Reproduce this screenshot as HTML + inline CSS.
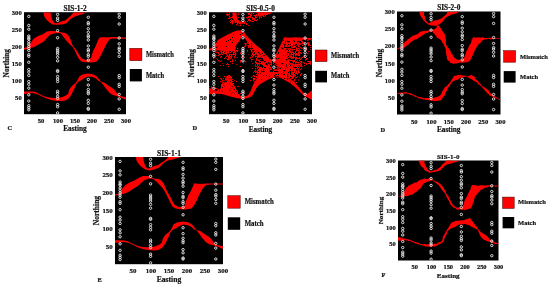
<!DOCTYPE html>
<html lang="en"><head><meta charset="utf-8"><title>Mismatch maps</title>
<style>html,body{margin:0;padding:0;background:#fff;}body{width:550px;height:289px;overflow:hidden;font-family:"Liberation Serif",serif;}svg text{stroke:#1a1a1a;stroke-width:.22px;}</style></head>
<body>
<svg width="550" height="289" viewBox="0 0 550 289" font-family="'Liberation Serif', serif" font-weight="bold" fill="#111" style="display:block">
<defs><clipPath id="c0"><rect x="24.00" y="12.20" width="102.00" height="102.00"/></clipPath><clipPath id="c1"><rect x="209.00" y="12.20" width="103.00" height="102.00"/></clipPath><clipPath id="c2"><rect x="397.00" y="11.50" width="103.50" height="103.00"/></clipPath><clipPath id="c3"><rect x="115.00" y="157.00" width="108.00" height="107.20"/></clipPath><clipPath id="c4"><rect x="398.00" y="160.50" width="100.50" height="100.00"/></clipPath></defs>
<g><rect x="24.00" y="12.20" width="102.00" height="102.00" fill="#000"/>
<g clip-path="url(#c0)">
<path d="M43.20 12.20 L44.20 16.30 L46.30 19.40 L49.40 22.50 L52.50 24.40 L56.70 24.80 L61.90 24.60 L66.10 23.60 L68.10 21.50 L71.20 18.40 L75.40 16.30 L79.60 15.10 L83.70 13.70 L86.30 12.20 L73.80 12.20 L71.20 15.30 L68.10 17.90 L65.00 20.50 L61.90 21.30 L58.80 22.50 L55.70 23.60 L54.10 22.50 L52.00 19.40 L51.00 15.30 L50.50 12.20Z" fill="#fe0000"/>
<path d="M24.00 48.00 L28.60 46.80 L30.30 43.50 L33.40 39.00 L37.60 36.30 L42.80 34.20 L46.90 31.60 L50.10 30.90 L57.30 31.20 L61.50 32.60 L65.30 32.90 L67.50 34.40 L69.60 37.30 L71.10 40.90 L72.20 44.50 L73.60 46.70 L76.90 50.80 L79.00 54.50 L81.40 58.20 L85.50 60.00 L89.10 59.50 L91.20 57.40 L92.80 51.70 L95.90 45.40 L98.00 40.20 L99.50 37.60 L103.20 37.30 L108.40 37.30 L113.60 37.10 L117.70 37.30 L126.00 37.60 L126.00 38.70 L117.70 38.70 L113.60 38.40 L109.40 39.20 L106.80 43.40 L104.20 48.50 L101.60 53.70 L99.00 58.90 L95.90 62.10 L90.70 62.60 L85.50 62.30 L81.40 61.50 L78.80 58.80 L77.00 55.50 L75.20 51.20 L72.50 46.80 L69.60 44.20 L66.70 40.90 L63.80 37.30 L60.90 33.60 L57.30 32.80 L53.20 33.80 L50.10 34.80 L46.90 38.10 L43.80 41.50 L39.70 43.70 L34.50 46.70 L29.30 48.50 L24.00 49.70Z" fill="#fe0000"/>
<path d="M24.00 91.40 L28.20 91.40 L32.40 91.60 L35.50 92.10 L39.70 94.20 L44.90 96.60 L50.10 97.80 L56.30 98.00 L61.50 97.30 L65.60 95.70 L68.20 93.70 L69.30 89.50 L71.90 85.90 L75.00 83.60 L77.20 80.70 L79.30 76.50 L82.40 74.50 L87.60 73.60 L92.80 74.30 L96.90 76.50 L99.50 79.70 L100.90 81.60 L104.50 82.70 L108.70 85.80 L112.90 88.40 L115.50 91.00 L117.50 94.10 L121.20 96.20 L126.00 97.20 L126.00 99.80 L121.20 97.70 L117.00 96.20 L112.90 95.10 L109.70 93.10 L106.60 89.40 L103.50 85.30 L100.90 81.90 L99.00 81.20 L95.90 78.60 L92.80 77.10 L88.60 76.50 L84.50 78.10 L81.40 80.20 L78.20 81.70 L76.20 84.00 L75.00 87.40 L72.90 91.60 L71.40 94.70 L68.80 98.30 L65.60 100.40 L61.50 101.10 L56.30 100.90 L50.10 99.70 L44.90 97.80 L40.70 95.70 L36.50 93.90 L32.40 93.10 L28.20 93.50 L24.00 93.90Z" fill="#fe0000"/>
<g fill="none" stroke="#efefef" stroke-width="0.9"><circle cx="28.80" cy="16.40" r="1.2"/><circle cx="28.80" cy="25.40" r="1.2"/><circle cx="28.80" cy="29.20" r="1.2"/><circle cx="28.80" cy="36.00" r="1.2"/><circle cx="28.80" cy="38.00" r="1.2"/><circle cx="28.80" cy="39.10" r="1.2"/><circle cx="28.80" cy="41.70" r="1.2"/><circle cx="28.80" cy="44.10" r="1.2"/><circle cx="28.80" cy="46.40" r="1.2"/><circle cx="28.80" cy="48.50" r="1.2"/><circle cx="28.80" cy="50.50" r="1.2"/><circle cx="28.80" cy="54.70" r="1.2"/><circle cx="28.80" cy="56.30" r="1.2"/><circle cx="28.80" cy="62.30" r="1.2"/><circle cx="28.80" cy="69.50" r="1.2"/><circle cx="28.80" cy="72.20" r="1.2"/><circle cx="28.80" cy="75.50" r="1.2"/><circle cx="28.80" cy="81.50" r="1.2"/><circle cx="28.80" cy="84.30" r="1.2"/><circle cx="28.80" cy="88.20" r="1.2"/><circle cx="28.80" cy="94.80" r="1.2"/><circle cx="28.80" cy="101.00" r="1.2"/><circle cx="28.80" cy="105.70" r="1.2"/><circle cx="28.80" cy="107.70" r="1.2"/><circle cx="28.80" cy="109.80" r="1.2"/><circle cx="57.60" cy="14.40" r="1.2"/><circle cx="57.60" cy="18.10" r="1.2"/><circle cx="57.60" cy="20.40" r="1.2"/><circle cx="57.60" cy="30.60" r="1.2"/><circle cx="57.60" cy="37.70" r="1.2"/><circle cx="57.60" cy="48.50" r="1.2"/><circle cx="57.60" cy="50.30" r="1.2"/><circle cx="57.60" cy="52.10" r="1.2"/><circle cx="57.60" cy="54.20" r="1.2"/><circle cx="57.60" cy="57.30" r="1.2"/><circle cx="57.60" cy="60.90" r="1.2"/><circle cx="57.60" cy="70.60" r="1.2"/><circle cx="57.60" cy="71.50" r="1.2"/><circle cx="57.60" cy="76.50" r="1.2"/><circle cx="57.60" cy="79.10" r="1.2"/><circle cx="57.60" cy="81.50" r="1.2"/><circle cx="57.60" cy="91.30" r="1.2"/><circle cx="57.60" cy="93.20" r="1.2"/><circle cx="57.60" cy="96.30" r="1.2"/><circle cx="57.60" cy="98.40" r="1.2"/><circle cx="57.60" cy="104.60" r="1.2"/><circle cx="57.60" cy="106.70" r="1.2"/><circle cx="57.60" cy="112.90" r="1.2"/><circle cx="88.30" cy="17.30" r="1.2"/><circle cx="88.30" cy="22.50" r="1.2"/><circle cx="88.30" cy="24.00" r="1.2"/><circle cx="88.30" cy="28.70" r="1.2"/><circle cx="88.30" cy="32.30" r="1.2"/><circle cx="88.30" cy="35.50" r="1.2"/><circle cx="88.30" cy="37.00" r="1.2"/><circle cx="88.30" cy="40.00" r="1.2"/><circle cx="88.30" cy="45.90" r="1.2"/><circle cx="88.30" cy="49.50" r="1.2"/><circle cx="88.30" cy="51.00" r="1.2"/><circle cx="88.30" cy="54.70" r="1.2"/><circle cx="88.30" cy="56.30" r="1.2"/><circle cx="88.30" cy="60.10" r="1.2"/><circle cx="88.30" cy="67.20" r="1.2"/><circle cx="88.30" cy="79.50" r="1.2"/><circle cx="88.30" cy="85.10" r="1.2"/><circle cx="88.30" cy="89.50" r="1.2"/><circle cx="88.30" cy="92.00" r="1.2"/><circle cx="88.30" cy="93.70" r="1.2"/><circle cx="88.30" cy="100.30" r="1.2"/><circle cx="88.30" cy="103.40" r="1.2"/><circle cx="88.30" cy="108.30" r="1.2"/><circle cx="88.30" cy="109.30" r="1.2"/><circle cx="119.20" cy="14.20" r="1.2"/><circle cx="119.20" cy="17.30" r="1.2"/><circle cx="119.20" cy="24.00" r="1.2"/><circle cx="119.20" cy="38.00" r="1.2"/><circle cx="119.20" cy="43.80" r="1.2"/><circle cx="119.20" cy="48.00" r="1.2"/><circle cx="119.20" cy="49.50" r="1.2"/><circle cx="119.20" cy="52.60" r="1.2"/><circle cx="119.20" cy="56.30" r="1.2"/><circle cx="119.20" cy="75.50" r="1.2"/><circle cx="119.20" cy="77.60" r="1.2"/><circle cx="119.20" cy="84.30" r="1.2"/><circle cx="119.20" cy="86.40" r="1.2"/><circle cx="119.20" cy="94.40" r="1.2"/><circle cx="119.20" cy="98.90" r="1.2"/><circle cx="119.20" cy="109.30" r="1.2"/></g>
</g>
<text x="75.00" y="10.90" text-anchor="middle" font-size="7.30">SIS-1-2</text>
<text x="41.00" y="123.20" text-anchor="middle" font-size="6.60">50</text>
<text x="58.00" y="123.20" text-anchor="middle" font-size="6.60">100</text>
<text x="75.00" y="123.20" text-anchor="middle" font-size="6.60">150</text>
<text x="92.00" y="123.20" text-anchor="middle" font-size="6.60">200</text>
<text x="109.00" y="123.20" text-anchor="middle" font-size="6.60">250</text>
<text x="126.00" y="123.20" text-anchor="middle" font-size="6.60">300</text>
<text x="21.70" y="99.80" text-anchor="end" font-size="6.60">50</text>
<text x="21.70" y="82.80" text-anchor="end" font-size="6.60">100</text>
<text x="21.70" y="65.80" text-anchor="end" font-size="6.60">150</text>
<text x="21.70" y="48.80" text-anchor="end" font-size="6.60">200</text>
<text x="21.70" y="31.80" text-anchor="end" font-size="6.60">250</text>
<text x="21.70" y="14.80" text-anchor="end" font-size="6.60">300</text>
<text x="75.00" y="131.20" text-anchor="middle" font-size="7.30">Easting</text>
<text transform="translate(8.80 63.20) rotate(-90)" text-anchor="middle" font-size="7.30">Northing</text>
<text x="7.40" y="130.00" font-size="6.4">C</text>
<rect x="129.80" y="48.30" width="12.10" height="12.40" fill="#fe0000" stroke="#500" stroke-width="0.55"/>
<rect x="129.80" y="69.00" width="12.10" height="12.40" fill="#000"/>
<text transform="translate(145.90 56.80) scale(0.91 1)" font-size="7.20">Mismatch</text>
<text transform="translate(145.90 77.50) scale(0.91 1)" font-size="7.20">Match</text></g>
<g><rect x="209.00" y="12.20" width="103.00" height="102.00" fill="#000"/>
<g clip-path="url(#c1)">
<path d="M232.40 12.20 L232.60 17.00 L233.50 20.00 L236.00 22.50 L239.00 23.80 L243.00 23.80 L246.30 22.30 L246.00 21.00 L243.00 21.80 L240.00 21.30 L237.80 19.50 L236.80 16.00 L236.40 12.20Z" fill="#fe0000"/>
<path d="M257.00 12.20 L273.00 12.20 L268.00 14.20 L262.00 15.80 L259.00 16.80Z" fill="#fe0000"/>
<path d="M209.00 49.00 L214.30 46.50 L217.40 40.30 L222.60 37.20 L227.80 34.60 L233.00 32.00 L237.00 30.60 L241.00 30.40 L243.80 31.50 L246.90 36.00 L251.30 40.40 L255.60 44.70 L260.50 48.40 L265.60 54.50 L270.70 59.20 L272.40 59.80 L273.40 59.00 L275.00 56.50 L276.80 52.50 L279.00 48.00 L281.00 44.00 L283.20 39.50 L284.00 37.20 L290.00 37.70 L295.40 37.20 L303.70 37.70 L312.00 38.00 L312.00 39.30 L303.00 39.50 L298.00 40.50 L293.30 44.50 L290.20 50.70 L289.00 56.00 L290.00 62.00 L292.00 68.00 L292.50 74.00 L291.00 80.00 L290.20 83.30 L285.00 80.20 L279.80 77.60 L274.60 77.30 L269.40 79.10 L264.20 81.70 L259.50 84.60 L256.60 87.80 L254.40 91.80 L252.00 95.90 L248.60 97.80 L243.40 98.90 L238.20 98.30 L233.00 97.30 L227.80 95.80 L222.60 94.20 L217.40 93.70 L209.00 94.20 L209.00 87.40 L212.20 89.50 L217.40 91.00 L224.00 92.00 L230.00 93.00 L236.00 94.50 L242.30 97.00 L247.80 95.60 L250.60 91.20 L252.60 86.00 L254.80 81.80 L257.00 78.00 L258.60 73.00 L259.30 67.00 L259.00 62.00 L258.20 57.00 L256.60 54.20 L253.80 49.80 L249.60 44.20 L245.50 39.60 L243.50 36.00 L241.50 36.50 L239.50 40.90 L236.50 44.50 L235.80 48.20 L235.10 51.00 L228.00 51.20 L222.00 50.80 L214.30 50.00 L209.00 50.50Z" fill="#fe0000"/>
<path d="M290.20 83.30 L295.40 87.40 L300.60 92.60 L304.70 96.30 L309.00 98.30 L312.00 100.00 L312.00 90.00 L310.00 92.00 L307.00 94.00 L303.50 93.00 L299.50 88.00 L296.00 84.00 L293.00 80.50 L291.00 80.00Z" fill="#fe0000"/>
<path d="M226 12h1.0v1.0h-1.0zM227 12h0.8v0.8h-0.8zM228 12h0.8v0.8h-0.8zM229 12h0.8v0.8h-0.8zM231 12h0.8v0.8h-0.8zM227 13h0.8v0.8h-0.8zM229 13h0.8v0.8h-0.8zM226 14h1.3v1.3h-1.3zM227 14h1.0v1.0h-1.0zM228 14h1.0v1.0h-1.0zM229 14h1.0v1.0h-1.0zM227 15h1.0v1.0h-1.0zM228 15h0.8v0.8h-0.8zM229 16h1.0v1.0h-1.0zM232 16h1.0v1.0h-1.0zM229 17h0.8v0.8h-0.8zM230 17h1.3v1.3h-1.3zM231 17h1.0v1.0h-1.0zM232 17h1.3v1.3h-1.3zM228 18h1.0v1.0h-1.0zM229 18h1.0v1.0h-1.0zM231 19h1.0v1.0h-1.0zM230 20h1.3v1.3h-1.3zM232 20h1.3v1.3h-1.3zM229 21h0.8v0.8h-0.8zM231 21h1.0v1.0h-1.0zM232 21h1.0v1.0h-1.0zM233 21h1.3v1.3h-1.3zM230 22h1.3v1.3h-1.3zM232 22h1.0v1.0h-1.0zM232 23h1.3v1.3h-1.3zM234 22h0.8v0.8h-0.8zM235 22h1.0v1.0h-1.0zM237 22h1.0v1.0h-1.0zM238 22h0.8v0.8h-0.8zM239 22h1.0v1.0h-1.0zM242 22h0.8v0.8h-0.8zM237 23h1.0v1.0h-1.0zM239 23h0.8v0.8h-0.8zM240 23h1.0v1.0h-1.0zM244 23h1.0v1.0h-1.0zM246 23h1.0v1.0h-1.0zM236 24h1.3v1.3h-1.3zM240 24h0.8v0.8h-0.8zM246 24h1.0v1.0h-1.0zM247 24h0.8v0.8h-0.8zM238 25h0.8v0.8h-0.8zM240 25h1.0v1.0h-1.0zM243 25h1.0v1.0h-1.0zM248 25h1.0v1.0h-1.0zM239 12h1.3v1.3h-1.3zM238 13h0.8v0.8h-0.8zM238 14h1.0v1.0h-1.0zM238 17h1.0v1.0h-1.0zM250 12h1.0v1.0h-1.0zM252 12h0.8v0.8h-0.8zM256 12h1.0v1.0h-1.0zM257 12h1.0v1.0h-1.0zM258 12h1.3v1.3h-1.3zM259 12h0.8v0.8h-0.8zM261 12h1.0v1.0h-1.0zM262 12h1.3v1.3h-1.3zM264 12h1.3v1.3h-1.3zM266 12h1.0v1.0h-1.0zM267 12h0.8v0.8h-0.8zM270 12h1.0v1.0h-1.0zM248 13h1.0v1.0h-1.0zM249 13h1.0v1.0h-1.0zM251 13h1.3v1.3h-1.3zM253 13h1.0v1.0h-1.0zM260 13h1.0v1.0h-1.0zM262 13h1.3v1.3h-1.3zM266 13h1.0v1.0h-1.0zM267 13h0.8v0.8h-0.8zM269 13h1.3v1.3h-1.3zM249 14h0.8v0.8h-0.8zM250 14h1.0v1.0h-1.0zM251 14h0.8v0.8h-0.8zM256 14h1.0v1.0h-1.0zM258 14h1.3v1.3h-1.3zM260 14h1.0v1.0h-1.0zM263 14h1.3v1.3h-1.3zM264 14h0.8v0.8h-0.8zM265 14h1.0v1.0h-1.0zM266 14h1.0v1.0h-1.0zM267 14h1.0v1.0h-1.0zM250 15h1.0v1.0h-1.0zM251 15h1.0v1.0h-1.0zM253 15h0.8v0.8h-0.8zM254 15h1.3v1.3h-1.3zM255 15h1.0v1.0h-1.0zM256 15h1.3v1.3h-1.3zM258 15h1.3v1.3h-1.3zM259 15h1.0v1.0h-1.0zM260 15h1.0v1.0h-1.0zM261 15h1.3v1.3h-1.3zM262 15h0.8v0.8h-0.8zM263 15h1.0v1.0h-1.0zM265 15h1.0v1.0h-1.0zM248 16h1.0v1.0h-1.0zM249 16h1.0v1.0h-1.0zM250 16h1.0v1.0h-1.0zM255 16h1.3v1.3h-1.3zM257 16h0.8v0.8h-0.8zM259 16h0.8v0.8h-0.8zM260 16h0.8v0.8h-0.8zM263 16h1.0v1.0h-1.0zM264 16h0.8v0.8h-0.8zM248 17h1.0v1.0h-1.0zM250 17h1.0v1.0h-1.0zM252 17h1.0v1.0h-1.0zM255 17h1.0v1.0h-1.0zM256 17h1.0v1.0h-1.0zM259 17h1.3v1.3h-1.3zM261 17h1.0v1.0h-1.0zM249 18h0.8v0.8h-0.8zM252 18h1.3v1.3h-1.3zM253 18h1.3v1.3h-1.3zM254 18h1.3v1.3h-1.3zM259 18h1.0v1.0h-1.0zM248 19h1.0v1.0h-1.0zM249 19h1.0v1.0h-1.0zM252 19h1.0v1.0h-1.0zM253 19h0.8v0.8h-0.8zM254 19h1.3v1.3h-1.3zM257 19h1.0v1.0h-1.0zM248 20h1.0v1.0h-1.0zM249 20h1.3v1.3h-1.3zM250 20h1.0v1.0h-1.0zM254 20h1.0v1.0h-1.0zM255 20h1.0v1.0h-1.0zM256 20h1.3v1.3h-1.3zM247 21h1.0v1.0h-1.0zM249 21h0.8v0.8h-0.8zM250 21h0.8v0.8h-0.8zM251 21h0.8v0.8h-0.8zM252 21h1.0v1.0h-1.0zM253 21h1.0v1.0h-1.0zM248 14h1.0v1.0h-1.0zM246 17h1.0v1.0h-1.0zM247 17h1.3v1.3h-1.3zM247 18h0.8v0.8h-0.8zM248 20h1.0v1.0h-1.0zM237 48h1.3v1.3h-1.3zM216 50h0.8v0.8h-0.8zM221 50h1.3v1.3h-1.3zM222 50h0.8v0.8h-0.8zM236 50h1.0v1.0h-1.0zM237 50h1.3v1.3h-1.3zM215 51h1.3v1.3h-1.3zM217 51h0.8v0.8h-0.8zM220 51h1.0v1.0h-1.0zM221 51h1.0v1.0h-1.0zM223 51h1.3v1.3h-1.3zM224 51h1.0v1.0h-1.0zM226 51h1.0v1.0h-1.0zM228 51h1.0v1.0h-1.0zM231 51h1.0v1.0h-1.0zM232 51h0.8v0.8h-0.8zM234 51h1.3v1.3h-1.3zM235 51h1.3v1.3h-1.3zM237 51h1.0v1.0h-1.0zM215 52h0.8v0.8h-0.8zM216 52h1.0v1.0h-1.0zM218 52h1.0v1.0h-1.0zM221 52h1.3v1.3h-1.3zM222 52h1.0v1.0h-1.0zM223 52h1.3v1.3h-1.3zM225 52h1.0v1.0h-1.0zM226 52h1.3v1.3h-1.3zM227 52h1.0v1.0h-1.0zM228 52h1.0v1.0h-1.0zM230 52h1.0v1.0h-1.0zM233 52h1.0v1.0h-1.0zM234 52h1.3v1.3h-1.3zM218 53h1.3v1.3h-1.3zM221 53h0.8v0.8h-0.8zM223 53h1.0v1.0h-1.0zM224 53h1.0v1.0h-1.0zM225 53h1.0v1.0h-1.0zM226 53h1.0v1.0h-1.0zM228 53h0.8v0.8h-0.8zM235 53h1.3v1.3h-1.3zM226 54h0.8v0.8h-0.8zM229 54h1.3v1.3h-1.3zM230 54h1.0v1.0h-1.0zM231 54h1.0v1.0h-1.0zM232 54h1.0v1.0h-1.0zM233 54h1.3v1.3h-1.3zM234 54h1.0v1.0h-1.0zM235 54h1.3v1.3h-1.3zM221 53h1.0v1.0h-1.0zM223 53h1.0v1.0h-1.0zM226 53h0.8v0.8h-0.8zM233 53h1.0v1.0h-1.0zM219 54h1.0v1.0h-1.0zM226 54h1.3v1.3h-1.3zM231 54h1.3v1.3h-1.3zM218 55h1.0v1.0h-1.0zM227 55h1.0v1.0h-1.0zM228 55h0.8v0.8h-0.8zM231 55h1.0v1.0h-1.0zM235 55h1.0v1.0h-1.0zM220 56h0.8v0.8h-0.8zM221 56h1.0v1.0h-1.0zM226 56h1.0v1.0h-1.0zM228 56h1.3v1.3h-1.3zM231 56h1.3v1.3h-1.3zM234 56h1.0v1.0h-1.0zM220 57h0.8v0.8h-0.8zM225 57h1.0v1.0h-1.0zM228 57h1.0v1.0h-1.0zM231 57h1.0v1.0h-1.0zM234 57h1.3v1.3h-1.3zM224 58h1.0v1.0h-1.0zM226 58h0.8v0.8h-0.8zM228 58h0.8v0.8h-0.8zM230 58h1.3v1.3h-1.3zM227 59h1.3v1.3h-1.3zM228 59h1.3v1.3h-1.3zM232 59h0.8v0.8h-0.8zM223 51h1.3v1.3h-1.3zM237 51h1.0v1.0h-1.0zM217 52h0.8v0.8h-0.8zM218 52h1.0v1.0h-1.0zM228 52h1.0v1.0h-1.0zM240 52h0.8v0.8h-0.8zM240 53h1.0v1.0h-1.0zM220 54h1.0v1.0h-1.0zM222 54h1.0v1.0h-1.0zM241 54h1.0v1.0h-1.0zM214 55h1.3v1.3h-1.3zM216 55h0.8v0.8h-0.8zM227 55h1.0v1.0h-1.0zM229 55h1.0v1.0h-1.0zM242 55h1.0v1.0h-1.0zM230 56h1.3v1.3h-1.3zM242 56h1.0v1.0h-1.0zM215 57h0.8v0.8h-0.8zM229 57h1.3v1.3h-1.3zM237 57h1.0v1.0h-1.0zM242 57h1.0v1.0h-1.0zM213 58h1.3v1.3h-1.3zM216 58h0.8v0.8h-0.8zM228 58h1.0v1.0h-1.0zM217 59h1.0v1.0h-1.0zM218 60h1.3v1.3h-1.3zM221 60h0.8v0.8h-0.8zM232 60h1.0v1.0h-1.0zM235 60h1.0v1.0h-1.0zM240 60h1.0v1.0h-1.0zM215 61h0.8v0.8h-0.8zM219 61h0.8v0.8h-0.8zM220 61h1.0v1.0h-1.0zM230 61h1.3v1.3h-1.3zM232 61h1.3v1.3h-1.3zM240 61h1.0v1.0h-1.0zM245 61h1.3v1.3h-1.3zM240 62h0.8v0.8h-0.8zM222 63h0.8v0.8h-0.8zM227 63h1.0v1.0h-1.0zM232 63h1.0v1.0h-1.0zM243 63h0.8v0.8h-0.8zM226 64h1.0v1.0h-1.0zM228 64h1.0v1.0h-1.0zM236 64h0.8v0.8h-0.8zM220 65h1.0v1.0h-1.0zM223 65h1.0v1.0h-1.0zM228 66h1.0v1.0h-1.0zM240 66h1.0v1.0h-1.0zM247 42h1.0v1.0h-1.0zM245 43h1.0v1.0h-1.0zM246 43h0.8v0.8h-0.8zM247 43h0.8v0.8h-0.8zM248 43h1.0v1.0h-1.0zM249 44h1.0v1.0h-1.0zM247 45h0.8v0.8h-0.8zM248 45h1.3v1.3h-1.3zM249 45h0.8v0.8h-0.8zM250 45h1.3v1.3h-1.3zM248 46h1.0v1.0h-1.0zM249 46h1.0v1.0h-1.0zM250 46h1.3v1.3h-1.3zM248 47h1.0v1.0h-1.0zM250 47h1.3v1.3h-1.3zM250 49h1.0v1.0h-1.0zM252 49h1.0v1.0h-1.0zM253 49h0.8v0.8h-0.8zM251 50h1.3v1.3h-1.3zM251 51h1.3v1.3h-1.3zM252 51h0.8v0.8h-0.8zM254 51h1.0v1.0h-1.0zM252 52h0.8v0.8h-0.8zM253 52h1.3v1.3h-1.3zM255 52h1.0v1.0h-1.0zM252 53h1.0v1.0h-1.0zM255 53h1.0v1.0h-1.0zM252 54h1.3v1.3h-1.3zM253 54h1.3v1.3h-1.3zM254 54h1.0v1.0h-1.0zM255 54h1.3v1.3h-1.3zM253 55h1.0v1.0h-1.0zM254 55h0.8v0.8h-0.8zM255 56h1.3v1.3h-1.3zM256 56h0.8v0.8h-0.8zM257 56h1.3v1.3h-1.3zM257 57h1.0v1.0h-1.0zM256 58h1.0v1.0h-1.0zM256 59h1.0v1.0h-1.0zM257 59h0.8v0.8h-0.8zM256 60h1.0v1.0h-1.0zM258 60h1.3v1.3h-1.3zM255 61h1.0v1.0h-1.0zM255 62h1.0v1.0h-1.0zM256 62h1.3v1.3h-1.3zM256 63h1.0v1.0h-1.0zM257 63h1.0v1.0h-1.0zM258 63h1.3v1.3h-1.3zM255 64h0.8v0.8h-0.8zM257 64h1.0v1.0h-1.0zM255 65h1.0v1.0h-1.0zM257 65h1.0v1.0h-1.0zM255 66h0.8v0.8h-0.8zM256 66h0.8v0.8h-0.8zM258 66h0.8v0.8h-0.8zM257 67h1.3v1.3h-1.3zM258 67h1.0v1.0h-1.0zM255 68h1.3v1.3h-1.3zM257 68h0.8v0.8h-0.8zM258 69h1.0v1.0h-1.0zM255 70h1.3v1.3h-1.3zM257 70h0.8v0.8h-0.8zM258 70h1.0v1.0h-1.0zM256 71h0.8v0.8h-0.8zM257 71h1.0v1.0h-1.0zM255 72h1.0v1.0h-1.0zM256 72h0.8v0.8h-0.8zM257 72h1.0v1.0h-1.0zM258 72h1.3v1.3h-1.3zM257 73h1.3v1.3h-1.3zM256 74h1.0v1.0h-1.0zM254 75h0.8v0.8h-0.8zM257 75h0.8v0.8h-0.8zM254 76h1.3v1.3h-1.3zM256 76h1.0v1.0h-1.0zM256 77h1.0v1.0h-1.0zM253 78h1.0v1.0h-1.0zM254 78h1.0v1.0h-1.0zM255 78h0.8v0.8h-0.8zM253 79h1.3v1.3h-1.3zM254 79h1.0v1.0h-1.0zM253 80h1.0v1.0h-1.0zM254 81h1.0v1.0h-1.0zM244 43h0.8v0.8h-0.8zM245 44h1.3v1.3h-1.3zM245 45h1.0v1.0h-1.0zM246 45h0.8v0.8h-0.8zM244 46h1.3v1.3h-1.3zM247 50h1.0v1.0h-1.0zM247 51h0.8v0.8h-0.8zM248 54h0.8v0.8h-0.8zM251 55h1.3v1.3h-1.3zM252 56h1.3v1.3h-1.3zM250 57h1.3v1.3h-1.3zM252 57h0.8v0.8h-0.8zM250 58h0.8v0.8h-0.8zM251 59h1.3v1.3h-1.3zM252 59h1.0v1.0h-1.0zM251 61h0.8v0.8h-0.8zM252 63h0.8v0.8h-0.8zM253 63h0.8v0.8h-0.8zM252 68h0.8v0.8h-0.8zM254 71h1.0v1.0h-1.0zM253 72h1.0v1.0h-1.0zM253 75h1.0v1.0h-1.0zM252 76h0.8v0.8h-0.8zM251 77h1.0v1.0h-1.0zM250 80h1.3v1.3h-1.3zM228 75h1.3v1.3h-1.3zM229 75h1.0v1.0h-1.0zM226 76h0.8v0.8h-0.8zM227 76h1.3v1.3h-1.3zM228 76h1.0v1.0h-1.0zM229 76h1.0v1.0h-1.0zM230 76h1.0v1.0h-1.0zM226 77h1.3v1.3h-1.3zM227 77h1.0v1.0h-1.0zM228 77h1.0v1.0h-1.0zM229 77h1.0v1.0h-1.0zM230 77h1.0v1.0h-1.0zM231 77h1.0v1.0h-1.0zM225 78h1.3v1.3h-1.3zM226 78h0.8v0.8h-0.8zM227 78h1.3v1.3h-1.3zM228 78h1.0v1.0h-1.0zM229 78h0.8v0.8h-0.8zM230 78h0.8v0.8h-0.8zM231 78h1.0v1.0h-1.0zM225 79h1.0v1.0h-1.0zM226 79h1.0v1.0h-1.0zM227 79h1.3v1.3h-1.3zM228 79h1.0v1.0h-1.0zM229 79h0.8v0.8h-0.8zM230 79h1.0v1.0h-1.0zM231 79h0.8v0.8h-0.8zM232 79h1.0v1.0h-1.0zM224 80h0.8v0.8h-0.8zM226 80h0.8v0.8h-0.8zM227 80h0.8v0.8h-0.8zM228 80h1.0v1.0h-1.0zM229 80h1.3v1.3h-1.3zM230 80h1.0v1.0h-1.0zM231 80h1.0v1.0h-1.0zM222 81h0.8v0.8h-0.8zM225 81h0.8v0.8h-0.8zM227 81h1.3v1.3h-1.3zM228 81h1.0v1.0h-1.0zM229 81h0.8v0.8h-0.8zM231 81h1.0v1.0h-1.0zM232 81h1.3v1.3h-1.3zM222 82h0.8v0.8h-0.8zM223 82h1.0v1.0h-1.0zM224 82h0.8v0.8h-0.8zM225 82h1.3v1.3h-1.3zM226 82h1.0v1.0h-1.0zM230 82h1.0v1.0h-1.0zM231 82h1.0v1.0h-1.0zM222 83h1.0v1.0h-1.0zM224 83h1.3v1.3h-1.3zM227 83h0.8v0.8h-0.8zM228 83h1.3v1.3h-1.3zM230 83h1.0v1.0h-1.0zM231 83h1.0v1.0h-1.0zM232 83h1.0v1.0h-1.0zM233 83h1.0v1.0h-1.0zM221 84h1.0v1.0h-1.0zM222 84h1.0v1.0h-1.0zM223 84h1.3v1.3h-1.3zM224 84h0.8v0.8h-0.8zM225 84h1.0v1.0h-1.0zM226 84h1.0v1.0h-1.0zM227 84h0.8v0.8h-0.8zM228 84h1.3v1.3h-1.3zM229 84h0.8v0.8h-0.8zM230 84h1.0v1.0h-1.0zM231 84h1.0v1.0h-1.0zM232 84h1.0v1.0h-1.0zM221 85h1.0v1.0h-1.0zM224 85h1.0v1.0h-1.0zM225 85h1.0v1.0h-1.0zM226 85h1.0v1.0h-1.0zM227 85h0.8v0.8h-0.8zM228 85h1.0v1.0h-1.0zM229 85h1.3v1.3h-1.3zM230 85h1.0v1.0h-1.0zM231 85h1.3v1.3h-1.3zM232 85h1.3v1.3h-1.3zM233 85h1.0v1.0h-1.0zM221 86h1.0v1.0h-1.0zM222 86h1.0v1.0h-1.0zM223 86h1.0v1.0h-1.0zM224 86h0.8v0.8h-0.8zM226 86h1.0v1.0h-1.0zM227 86h1.0v1.0h-1.0zM228 86h1.0v1.0h-1.0zM229 86h1.0v1.0h-1.0zM230 86h1.3v1.3h-1.3zM233 86h1.0v1.0h-1.0zM234 86h1.3v1.3h-1.3zM221 87h1.3v1.3h-1.3zM223 87h1.0v1.0h-1.0zM224 87h1.0v1.0h-1.0zM225 87h1.0v1.0h-1.0zM226 87h0.8v0.8h-0.8zM227 87h1.3v1.3h-1.3zM229 87h1.0v1.0h-1.0zM230 87h1.0v1.0h-1.0zM231 87h1.3v1.3h-1.3zM232 87h0.8v0.8h-0.8zM233 87h0.8v0.8h-0.8zM220 88h0.8v0.8h-0.8zM221 88h1.0v1.0h-1.0zM222 88h0.8v0.8h-0.8zM223 88h1.0v1.0h-1.0zM224 88h1.0v1.0h-1.0zM225 88h0.8v0.8h-0.8zM226 88h1.0v1.0h-1.0zM227 88h1.3v1.3h-1.3zM228 88h1.3v1.3h-1.3zM229 88h0.8v0.8h-0.8zM230 88h0.8v0.8h-0.8zM231 88h1.3v1.3h-1.3zM232 88h1.0v1.0h-1.0zM233 88h0.8v0.8h-0.8zM234 88h1.0v1.0h-1.0zM235 88h1.0v1.0h-1.0zM221 89h1.3v1.3h-1.3zM222 89h1.0v1.0h-1.0zM224 89h1.3v1.3h-1.3zM225 89h0.8v0.8h-0.8zM226 89h0.8v0.8h-0.8zM227 89h1.0v1.0h-1.0zM228 89h1.0v1.0h-1.0zM229 89h1.0v1.0h-1.0zM232 89h1.0v1.0h-1.0zM235 89h1.3v1.3h-1.3zM220 90h0.8v0.8h-0.8zM221 90h1.0v1.0h-1.0zM222 90h1.3v1.3h-1.3zM223 90h0.8v0.8h-0.8zM224 90h1.3v1.3h-1.3zM226 90h1.3v1.3h-1.3zM227 90h0.8v0.8h-0.8zM228 90h1.0v1.0h-1.0zM230 90h0.8v0.8h-0.8zM231 90h1.0v1.0h-1.0zM232 90h0.8v0.8h-0.8zM233 90h0.8v0.8h-0.8zM234 90h1.0v1.0h-1.0zM235 90h1.0v1.0h-1.0zM236 90h1.0v1.0h-1.0zM220 91h1.0v1.0h-1.0zM221 91h1.0v1.0h-1.0zM224 91h1.0v1.0h-1.0zM225 91h0.8v0.8h-0.8zM226 91h1.0v1.0h-1.0zM228 91h1.0v1.0h-1.0zM229 91h1.0v1.0h-1.0zM230 91h1.0v1.0h-1.0zM231 91h1.0v1.0h-1.0zM232 91h1.3v1.3h-1.3zM234 91h1.0v1.0h-1.0zM235 91h1.3v1.3h-1.3zM237 91h1.0v1.0h-1.0zM225 92h1.0v1.0h-1.0zM226 92h1.0v1.0h-1.0zM227 92h1.0v1.0h-1.0zM229 92h0.8v0.8h-0.8zM230 92h1.0v1.0h-1.0zM231 92h1.0v1.0h-1.0zM232 92h0.8v0.8h-0.8zM233 92h1.3v1.3h-1.3zM234 92h0.8v0.8h-0.8zM235 92h1.0v1.0h-1.0zM236 92h1.0v1.0h-1.0zM237 92h1.0v1.0h-1.0zM230 93h1.0v1.0h-1.0zM232 93h1.3v1.3h-1.3zM233 93h1.0v1.0h-1.0zM234 93h0.8v0.8h-0.8zM235 93h0.8v0.8h-0.8zM236 93h1.0v1.0h-1.0zM237 93h1.0v1.0h-1.0zM234 94h1.3v1.3h-1.3zM236 94h1.0v1.0h-1.0zM237 94h1.0v1.0h-1.0zM238 94h1.3v1.3h-1.3zM239 94h0.8v0.8h-0.8zM237 95h1.3v1.3h-1.3zM238 95h1.0v1.0h-1.0zM239 95h1.0v1.0h-1.0zM240 96h1.3v1.3h-1.3zM241 96h0.8v0.8h-0.8zM228 80h1.0v1.0h-1.0zM227 81h1.0v1.0h-1.0zM229 81h1.3v1.3h-1.3zM226 82h0.8v0.8h-0.8zM227 82h1.0v1.0h-1.0zM228 82h1.3v1.3h-1.3zM229 82h1.0v1.0h-1.0zM225 83h1.3v1.3h-1.3zM226 83h1.3v1.3h-1.3zM227 83h1.0v1.0h-1.0zM228 83h1.0v1.0h-1.0zM229 83h0.8v0.8h-0.8zM230 83h1.0v1.0h-1.0zM224 84h1.0v1.0h-1.0zM225 84h1.0v1.0h-1.0zM226 84h1.3v1.3h-1.3zM227 84h1.3v1.3h-1.3zM228 84h1.0v1.0h-1.0zM229 84h0.8v0.8h-0.8zM230 84h1.0v1.0h-1.0zM224 85h0.8v0.8h-0.8zM225 85h1.0v1.0h-1.0zM226 85h1.0v1.0h-1.0zM227 85h1.3v1.3h-1.3zM228 85h1.0v1.0h-1.0zM229 85h1.0v1.0h-1.0zM230 85h1.0v1.0h-1.0zM231 85h0.8v0.8h-0.8zM224 86h0.8v0.8h-0.8zM225 86h0.8v0.8h-0.8zM226 86h0.8v0.8h-0.8zM227 86h1.0v1.0h-1.0zM228 86h0.8v0.8h-0.8zM230 86h0.8v0.8h-0.8zM231 86h0.8v0.8h-0.8zM224 87h1.3v1.3h-1.3zM225 87h1.0v1.0h-1.0zM226 87h1.0v1.0h-1.0zM227 87h1.3v1.3h-1.3zM228 87h1.0v1.0h-1.0zM229 87h0.8v0.8h-0.8zM230 87h0.8v0.8h-0.8zM231 87h1.3v1.3h-1.3zM232 87h1.3v1.3h-1.3zM223 88h0.8v0.8h-0.8zM224 88h1.0v1.0h-1.0zM225 88h1.0v1.0h-1.0zM226 88h1.0v1.0h-1.0zM227 88h0.8v0.8h-0.8zM228 88h0.8v0.8h-0.8zM229 88h1.3v1.3h-1.3zM230 88h0.8v0.8h-0.8zM231 88h1.3v1.3h-1.3zM232 88h0.8v0.8h-0.8zM223 89h1.0v1.0h-1.0zM224 89h0.8v0.8h-0.8zM225 89h1.0v1.0h-1.0zM226 89h1.3v1.3h-1.3zM227 89h1.0v1.0h-1.0zM229 89h0.8v0.8h-0.8zM230 89h1.3v1.3h-1.3zM231 89h1.0v1.0h-1.0zM232 89h1.3v1.3h-1.3zM233 89h1.3v1.3h-1.3zM223 90h1.0v1.0h-1.0zM224 90h1.0v1.0h-1.0zM225 90h1.0v1.0h-1.0zM226 90h1.0v1.0h-1.0zM227 90h1.0v1.0h-1.0zM228 90h1.3v1.3h-1.3zM229 90h0.8v0.8h-0.8zM231 90h1.0v1.0h-1.0zM232 90h1.3v1.3h-1.3zM233 90h1.0v1.0h-1.0zM234 90h1.3v1.3h-1.3zM225 91h0.8v0.8h-0.8zM226 91h1.0v1.0h-1.0zM227 91h1.0v1.0h-1.0zM228 91h1.0v1.0h-1.0zM229 91h1.0v1.0h-1.0zM230 91h1.3v1.3h-1.3zM231 91h1.0v1.0h-1.0zM232 91h1.0v1.0h-1.0zM233 91h1.3v1.3h-1.3zM234 91h1.0v1.0h-1.0zM228 92h1.3v1.3h-1.3zM229 92h1.0v1.0h-1.0zM230 92h1.0v1.0h-1.0zM233 92h1.3v1.3h-1.3zM234 92h1.0v1.0h-1.0zM235 92h1.3v1.3h-1.3zM232 93h1.0v1.0h-1.0zM233 93h0.8v0.8h-0.8zM234 93h0.8v0.8h-0.8zM235 93h1.0v1.0h-1.0zM236 93h1.3v1.3h-1.3zM236 94h1.0v1.0h-1.0zM237 94h1.3v1.3h-1.3zM209 86h1.0v1.0h-1.0zM211 86h1.0v1.0h-1.0zM211 87h1.0v1.0h-1.0zM212 87h1.0v1.0h-1.0zM213 87h1.3v1.3h-1.3zM221 87h1.3v1.3h-1.3zM209 88h1.0v1.0h-1.0zM211 88h1.0v1.0h-1.0zM214 88h1.3v1.3h-1.3zM215 88h1.3v1.3h-1.3zM216 88h1.3v1.3h-1.3zM220 88h0.8v0.8h-0.8zM221 88h0.8v0.8h-0.8zM222 88h1.0v1.0h-1.0zM210 89h0.8v0.8h-0.8zM212 89h1.0v1.0h-1.0zM213 89h0.8v0.8h-0.8zM218 89h1.3v1.3h-1.3zM220 89h1.3v1.3h-1.3zM210 90h1.0v1.0h-1.0zM217 90h1.0v1.0h-1.0zM218 90h1.0v1.0h-1.0zM220 90h1.3v1.3h-1.3zM223 90h0.8v0.8h-0.8zM224 90h1.3v1.3h-1.3zM213 91h1.0v1.0h-1.0zM218 91h0.8v0.8h-0.8zM218 76h1.0v1.0h-1.0zM224 76h1.3v1.3h-1.3zM226 77h1.3v1.3h-1.3zM228 77h1.0v1.0h-1.0zM220 78h1.3v1.3h-1.3zM223 78h1.0v1.0h-1.0zM231 78h0.8v0.8h-0.8zM221 79h1.3v1.3h-1.3zM222 80h1.3v1.3h-1.3zM230 80h1.0v1.0h-1.0zM234 80h0.8v0.8h-0.8zM220 81h1.3v1.3h-1.3zM222 81h0.8v0.8h-0.8zM236 81h1.0v1.0h-1.0zM224 82h0.8v0.8h-0.8zM222 85h1.0v1.0h-1.0zM224 85h1.0v1.0h-1.0zM225 85h0.8v0.8h-0.8zM226 85h1.0v1.0h-1.0zM231 85h1.0v1.0h-1.0zM225 86h1.0v1.0h-1.0zM226 86h1.0v1.0h-1.0zM237 86h0.8v0.8h-0.8zM238 86h1.0v1.0h-1.0zM229 87h1.0v1.0h-1.0zM233 87h0.8v0.8h-0.8zM234 87h1.3v1.3h-1.3zM220 89h1.0v1.0h-1.0zM228 89h1.0v1.0h-1.0zM223 90h1.0v1.0h-1.0zM223 91h1.0v1.0h-1.0zM225 91h1.0v1.0h-1.0zM241 91h0.8v0.8h-0.8zM229 92h1.0v1.0h-1.0zM231 92h1.0v1.0h-1.0zM243 92h1.3v1.3h-1.3zM226 93h1.0v1.0h-1.0zM232 93h1.0v1.0h-1.0zM235 93h1.0v1.0h-1.0zM237 93h1.0v1.0h-1.0zM240 93h1.0v1.0h-1.0zM236 95h1.3v1.3h-1.3zM237 95h1.0v1.0h-1.0zM288 40h1.0v1.0h-1.0zM292 40h1.0v1.0h-1.0zM294 40h1.3v1.3h-1.3zM295 40h1.0v1.0h-1.0zM289 41h1.0v1.0h-1.0zM290 41h0.8v0.8h-0.8zM291 41h0.8v0.8h-0.8zM292 41h1.3v1.3h-1.3zM293 41h1.0v1.0h-1.0zM294 41h1.3v1.3h-1.3zM295 41h1.3v1.3h-1.3zM290 42h1.0v1.0h-1.0zM291 42h0.8v0.8h-0.8zM292 42h1.3v1.3h-1.3zM293 42h1.0v1.0h-1.0zM294 42h1.3v1.3h-1.3zM295 42h1.0v1.0h-1.0zM291 43h1.0v1.0h-1.0zM292 43h1.0v1.0h-1.0zM294 43h1.0v1.0h-1.0zM295 43h1.0v1.0h-1.0zM290 44h1.0v1.0h-1.0zM291 44h1.3v1.3h-1.3zM292 44h0.8v0.8h-0.8zM294 44h1.0v1.0h-1.0zM291 45h1.3v1.3h-1.3zM292 45h1.0v1.0h-1.0zM294 45h0.8v0.8h-0.8zM292 46h0.8v0.8h-0.8zM293 46h1.0v1.0h-1.0zM294 46h1.0v1.0h-1.0zM291 47h1.0v1.0h-1.0zM292 47h1.3v1.3h-1.3zM293 47h1.0v1.0h-1.0zM291 48h1.3v1.3h-1.3zM290 49h1.0v1.0h-1.0zM291 49h0.8v0.8h-0.8zM292 49h1.0v1.0h-1.0zM293 49h0.8v0.8h-0.8zM290 50h0.8v0.8h-0.8zM292 50h0.8v0.8h-0.8zM290 51h1.3v1.3h-1.3zM292 51h0.8v0.8h-0.8zM290 52h1.0v1.0h-1.0zM291 52h0.8v0.8h-0.8zM292 52h1.3v1.3h-1.3zM291 53h1.0v1.0h-1.0zM290 54h0.8v0.8h-0.8zM291 54h1.0v1.0h-1.0zM289 55h1.0v1.0h-1.0zM290 55h0.8v0.8h-0.8zM291 55h0.8v0.8h-0.8zM289 56h1.0v1.0h-1.0zM290 56h1.0v1.0h-1.0zM291 56h1.3v1.3h-1.3zM289 57h1.0v1.0h-1.0zM290 57h1.0v1.0h-1.0zM291 57h1.0v1.0h-1.0zM289 58h1.3v1.3h-1.3zM291 58h1.3v1.3h-1.3zM290 60h1.0v1.0h-1.0zM291 60h1.0v1.0h-1.0zM292 60h1.3v1.3h-1.3zM292 61h0.8v0.8h-0.8zM290 63h1.0v1.0h-1.0zM291 63h1.3v1.3h-1.3zM292 63h1.0v1.0h-1.0zM291 64h0.8v0.8h-0.8zM292 64h1.3v1.3h-1.3zM293 64h1.3v1.3h-1.3zM291 65h1.3v1.3h-1.3zM292 65h0.8v0.8h-0.8zM293 65h1.0v1.0h-1.0zM291 66h1.0v1.0h-1.0zM292 66h1.0v1.0h-1.0zM292 67h1.3v1.3h-1.3zM292 68h1.3v1.3h-1.3zM293 68h1.0v1.0h-1.0zM294 68h1.0v1.0h-1.0zM292 69h1.0v1.0h-1.0zM294 69h1.0v1.0h-1.0zM292 70h1.3v1.3h-1.3zM293 70h0.8v0.8h-0.8zM294 70h1.0v1.0h-1.0zM294 71h1.0v1.0h-1.0zM292 72h1.3v1.3h-1.3zM293 72h1.0v1.0h-1.0zM294 72h1.0v1.0h-1.0zM292 73h0.8v0.8h-0.8zM293 73h1.0v1.0h-1.0zM292 74h1.3v1.3h-1.3zM293 74h1.0v1.0h-1.0zM293 75h1.0v1.0h-1.0zM292 76h1.0v1.0h-1.0zM293 76h1.0v1.0h-1.0zM292 77h1.0v1.0h-1.0zM293 77h1.0v1.0h-1.0zM291 78h1.0v1.0h-1.0zM292 78h1.0v1.0h-1.0zM297 40h1.0v1.0h-1.0zM299 40h1.3v1.3h-1.3zM301 40h1.3v1.3h-1.3zM296 41h1.0v1.0h-1.0zM299 41h0.8v0.8h-0.8zM301 41h1.3v1.3h-1.3zM302 41h1.0v1.0h-1.0zM296 42h1.3v1.3h-1.3zM298 42h1.0v1.0h-1.0zM296 43h1.0v1.0h-1.0zM297 43h0.8v0.8h-0.8zM298 43h1.3v1.3h-1.3zM299 43h1.3v1.3h-1.3zM300 43h0.8v0.8h-0.8zM301 43h1.3v1.3h-1.3zM297 44h1.3v1.3h-1.3zM298 44h0.8v0.8h-0.8zM299 44h1.3v1.3h-1.3zM300 44h0.8v0.8h-0.8zM296 45h0.8v0.8h-0.8zM298 45h1.0v1.0h-1.0zM295 46h1.0v1.0h-1.0zM298 46h1.3v1.3h-1.3zM299 46h1.0v1.0h-1.0zM294 47h1.0v1.0h-1.0zM296 47h0.8v0.8h-0.8zM300 47h1.3v1.3h-1.3zM296 48h1.0v1.0h-1.0zM297 48h0.8v0.8h-0.8zM298 48h1.0v1.0h-1.0zM299 48h0.8v0.8h-0.8zM294 49h1.0v1.0h-1.0zM296 49h1.3v1.3h-1.3zM297 49h1.3v1.3h-1.3zM299 49h1.0v1.0h-1.0zM296 50h1.0v1.0h-1.0zM297 50h1.0v1.0h-1.0zM298 50h1.0v1.0h-1.0zM295 51h1.0v1.0h-1.0zM296 51h0.8v0.8h-0.8zM298 51h0.8v0.8h-0.8zM299 51h1.0v1.0h-1.0zM293 52h1.0v1.0h-1.0zM295 52h1.0v1.0h-1.0zM298 52h1.3v1.3h-1.3zM293 53h1.0v1.0h-1.0zM294 53h1.3v1.3h-1.3zM296 53h1.0v1.0h-1.0zM298 53h1.3v1.3h-1.3zM292 54h1.0v1.0h-1.0zM293 54h1.0v1.0h-1.0zM295 54h1.0v1.0h-1.0zM296 54h1.0v1.0h-1.0zM297 54h1.3v1.3h-1.3zM298 54h0.8v0.8h-0.8zM293 55h1.0v1.0h-1.0zM295 55h1.3v1.3h-1.3zM296 55h0.8v0.8h-0.8zM298 55h1.0v1.0h-1.0zM293 56h1.0v1.0h-1.0zM292 57h1.0v1.0h-1.0zM293 57h1.0v1.0h-1.0zM294 57h1.0v1.0h-1.0zM295 57h0.8v0.8h-0.8zM296 57h1.0v1.0h-1.0zM292 58h0.8v0.8h-0.8zM293 58h1.0v1.0h-1.0zM295 58h1.3v1.3h-1.3zM296 58h1.0v1.0h-1.0zM297 58h1.0v1.0h-1.0zM295 59h1.0v1.0h-1.0zM296 59h0.8v0.8h-0.8zM293 60h0.8v0.8h-0.8zM294 60h1.0v1.0h-1.0zM297 60h0.8v0.8h-0.8zM293 61h1.3v1.3h-1.3zM294 61h1.0v1.0h-1.0zM296 61h0.8v0.8h-0.8zM293 62h1.0v1.0h-1.0zM295 62h1.0v1.0h-1.0zM296 62h1.3v1.3h-1.3zM297 62h1.0v1.0h-1.0zM298 62h1.0v1.0h-1.0zM295 63h0.8v0.8h-0.8zM298 63h0.8v0.8h-0.8zM294 64h0.8v0.8h-0.8zM295 64h1.0v1.0h-1.0zM296 64h1.0v1.0h-1.0zM297 64h1.0v1.0h-1.0zM298 64h0.8v0.8h-0.8zM294 65h1.3v1.3h-1.3zM295 65h1.0v1.0h-1.0zM296 65h1.0v1.0h-1.0zM297 65h1.3v1.3h-1.3zM298 65h0.8v0.8h-0.8zM294 66h1.0v1.0h-1.0zM295 66h0.8v0.8h-0.8zM296 66h1.0v1.0h-1.0zM298 66h1.0v1.0h-1.0zM297 67h1.0v1.0h-1.0zM295 68h0.8v0.8h-0.8zM296 68h1.0v1.0h-1.0zM298 68h1.0v1.0h-1.0zM295 69h1.0v1.0h-1.0zM297 69h0.8v0.8h-0.8zM298 69h0.8v0.8h-0.8zM295 70h1.0v1.0h-1.0zM296 70h0.8v0.8h-0.8zM298 70h1.0v1.0h-1.0zM296 71h1.0v1.0h-1.0zM298 71h1.3v1.3h-1.3zM296 72h1.0v1.0h-1.0zM298 72h1.3v1.3h-1.3zM295 73h1.0v1.0h-1.0zM296 73h1.0v1.0h-1.0zM297 73h1.0v1.0h-1.0zM294 74h1.0v1.0h-1.0zM297 74h0.8v0.8h-0.8zM294 75h1.3v1.3h-1.3zM295 75h1.0v1.0h-1.0zM294 76h0.8v0.8h-0.8zM297 76h1.0v1.0h-1.0zM295 77h1.3v1.3h-1.3zM296 77h1.0v1.0h-1.0zM294 79h1.0v1.0h-1.0zM294 80h1.0v1.0h-1.0zM293 81h1.3v1.3h-1.3zM296 82h1.3v1.3h-1.3zM307 40h1.0v1.0h-1.0zM302 42h1.0v1.0h-1.0zM303 42h1.3v1.3h-1.3zM307 42h1.0v1.0h-1.0zM308 42h1.3v1.3h-1.3zM302 43h1.0v1.0h-1.0zM304 43h1.0v1.0h-1.0zM307 43h1.0v1.0h-1.0zM308 43h1.3v1.3h-1.3zM308 44h1.0v1.0h-1.0zM309 44h1.0v1.0h-1.0zM302 45h1.0v1.0h-1.0zM308 45h1.0v1.0h-1.0zM310 45h1.0v1.0h-1.0zM303 47h0.8v0.8h-0.8zM310 47h1.0v1.0h-1.0zM301 48h1.0v1.0h-1.0zM302 48h0.8v0.8h-0.8zM304 48h1.0v1.0h-1.0zM306 48h0.8v0.8h-0.8zM306 49h1.3v1.3h-1.3zM310 49h0.8v0.8h-0.8zM300 50h1.0v1.0h-1.0zM308 51h1.3v1.3h-1.3zM299 52h1.0v1.0h-1.0zM300 52h1.0v1.0h-1.0zM300 53h0.8v0.8h-0.8zM301 53h1.0v1.0h-1.0zM305 53h0.8v0.8h-0.8zM307 53h1.3v1.3h-1.3zM299 54h1.0v1.0h-1.0zM299 55h1.0v1.0h-1.0zM304 55h1.0v1.0h-1.0zM307 55h0.8v0.8h-0.8zM304 56h1.0v1.0h-1.0zM299 57h1.3v1.3h-1.3zM302 57h1.0v1.0h-1.0zM309 57h0.8v0.8h-0.8zM298 58h1.0v1.0h-1.0zM299 58h1.3v1.3h-1.3zM301 58h1.0v1.0h-1.0zM306 58h1.3v1.3h-1.3zM307 58h1.0v1.0h-1.0zM300 59h1.0v1.0h-1.0zM305 59h1.0v1.0h-1.0zM306 59h1.0v1.0h-1.0zM299 60h1.0v1.0h-1.0zM305 60h0.8v0.8h-0.8zM301 61h1.3v1.3h-1.3zM307 61h1.0v1.0h-1.0zM308 61h1.0v1.0h-1.0zM299 62h0.8v0.8h-0.8zM301 62h1.0v1.0h-1.0zM303 62h1.0v1.0h-1.0zM309 62h1.0v1.0h-1.0zM308 63h1.0v1.0h-1.0zM299 64h1.3v1.3h-1.3zM306 64h1.0v1.0h-1.0zM310 64h0.8v0.8h-0.8zM300 65h1.3v1.3h-1.3zM301 65h1.0v1.0h-1.0zM304 65h1.0v1.0h-1.0zM300 66h0.8v0.8h-0.8zM301 66h1.3v1.3h-1.3zM302 66h0.8v0.8h-0.8zM299 67h0.8v0.8h-0.8zM301 68h1.0v1.0h-1.0zM300 69h1.0v1.0h-1.0zM299 72h1.0v1.0h-1.0zM301 73h1.3v1.3h-1.3zM300 74h1.0v1.0h-1.0zM300 75h1.0v1.0h-1.0zM299 77h0.8v0.8h-0.8zM298 79h0.8v0.8h-0.8zM298 80h0.8v0.8h-0.8zM300 61h1.3v1.3h-1.3zM301 61h1.0v1.0h-1.0zM307 61h1.0v1.0h-1.0zM309 61h1.0v1.0h-1.0zM310 61h1.3v1.3h-1.3zM297 62h0.8v0.8h-0.8zM304 62h0.8v0.8h-0.8zM310 62h1.0v1.0h-1.0zM300 63h1.0v1.0h-1.0zM304 63h1.0v1.0h-1.0zM306 63h1.0v1.0h-1.0zM309 63h1.0v1.0h-1.0zM310 63h1.0v1.0h-1.0zM298 64h1.0v1.0h-1.0zM300 64h0.8v0.8h-0.8zM301 64h1.0v1.0h-1.0zM286 39h1.0v1.0h-1.0zM288 39h0.8v0.8h-0.8zM289 39h1.0v1.0h-1.0zM290 39h1.0v1.0h-1.0zM291 39h1.0v1.0h-1.0zM293 39h1.3v1.3h-1.3zM294 39h1.3v1.3h-1.3zM295 39h1.3v1.3h-1.3zM300 39h1.0v1.0h-1.0zM301 39h0.8v0.8h-0.8zM302 39h1.0v1.0h-1.0zM304 39h1.0v1.0h-1.0zM308 39h1.0v1.0h-1.0zM309 39h1.0v1.0h-1.0zM310 39h0.8v0.8h-0.8zM284 40h0.8v0.8h-0.8zM288 40h0.8v0.8h-0.8zM290 40h0.8v0.8h-0.8zM292 40h0.8v0.8h-0.8zM294 40h1.3v1.3h-1.3zM296 40h1.0v1.0h-1.0zM298 40h1.0v1.0h-1.0zM300 40h1.0v1.0h-1.0zM305 40h0.8v0.8h-0.8zM308 40h0.8v0.8h-0.8zM311 40h0.8v0.8h-0.8z" fill="#fe0000"/>
<path d="M283 43h1.0v1.0h-1.0zM285 44h0.8v0.8h-0.8zM288 44h1.3v1.3h-1.3zM284 45h0.8v0.8h-0.8zM284 46h0.8v0.8h-0.8zM290 46h1.0v1.0h-1.0zM281 47h1.3v1.3h-1.3zM284 47h1.0v1.0h-1.0zM287 47h1.0v1.0h-1.0zM288 47h1.3v1.3h-1.3zM282 48h1.3v1.3h-1.3zM285 50h0.8v0.8h-0.8zM288 50h1.0v1.0h-1.0zM278 52h1.0v1.0h-1.0zM287 52h1.0v1.0h-1.0zM259 53h1.0v1.0h-1.0zM262 53h1.0v1.0h-1.0zM278 53h1.0v1.0h-1.0zM289 53h0.8v0.8h-0.8zM260 54h0.8v0.8h-0.8zM277 54h1.0v1.0h-1.0zM264 55h0.8v0.8h-0.8zM283 55h0.8v0.8h-0.8zM285 55h0.8v0.8h-0.8zM261 56h1.0v1.0h-1.0zM260 57h0.8v0.8h-0.8zM279 57h0.8v0.8h-0.8zM269 58h1.0v1.0h-1.0zM276 58h1.3v1.3h-1.3zM278 58h1.0v1.0h-1.0zM288 58h1.3v1.3h-1.3zM286 59h1.3v1.3h-1.3zM263 60h1.0v1.0h-1.0zM264 61h1.3v1.3h-1.3zM265 61h0.8v0.8h-0.8zM272 61h1.3v1.3h-1.3zM289 61h1.0v1.0h-1.0zM260 62h1.0v1.0h-1.0zM266 63h1.3v1.3h-1.3zM272 63h1.0v1.0h-1.0zM281 63h0.8v0.8h-0.8zM282 63h1.3v1.3h-1.3zM289 63h0.8v0.8h-0.8zM261 64h0.8v0.8h-0.8zM267 64h0.8v0.8h-0.8zM276 64h0.8v0.8h-0.8zM267 65h1.0v1.0h-1.0zM273 65h1.0v1.0h-1.0zM286 65h0.8v0.8h-0.8zM290 65h1.0v1.0h-1.0zM260 66h1.0v1.0h-1.0zM270 66h0.8v0.8h-0.8zM289 66h1.0v1.0h-1.0zM262 67h1.0v1.0h-1.0zM264 67h1.0v1.0h-1.0zM265 67h1.0v1.0h-1.0zM281 67h1.0v1.0h-1.0zM279 68h0.8v0.8h-0.8zM280 68h1.0v1.0h-1.0zM285 68h0.8v0.8h-0.8zM290 69h1.0v1.0h-1.0zM261 70h1.0v1.0h-1.0zM283 70h1.0v1.0h-1.0zM284 70h1.3v1.3h-1.3zM261 71h1.3v1.3h-1.3zM264 71h0.8v0.8h-0.8zM270 71h1.0v1.0h-1.0zM272 71h0.8v0.8h-0.8zM276 71h1.0v1.0h-1.0zM277 71h1.3v1.3h-1.3zM283 72h1.0v1.0h-1.0zM290 72h1.3v1.3h-1.3zM260 73h0.8v0.8h-0.8zM281 73h1.0v1.0h-1.0zM290 73h1.0v1.0h-1.0zM275 74h1.0v1.0h-1.0zM276 74h1.0v1.0h-1.0zM278 74h1.0v1.0h-1.0zM283 74h1.0v1.0h-1.0zM284 74h1.0v1.0h-1.0zM287 74h1.3v1.3h-1.3zM263 75h1.0v1.0h-1.0zM266 75h0.8v0.8h-0.8zM274 75h1.3v1.3h-1.3zM291 75h1.0v1.0h-1.0zM269 76h1.0v1.0h-1.0zM275 76h1.3v1.3h-1.3zM277 76h1.0v1.0h-1.0zM278 76h0.8v0.8h-0.8zM284 78h1.0v1.0h-1.0zM261 79h1.0v1.0h-1.0zM287 79h1.0v1.0h-1.0zM283 40h1.0v1.0h-1.0zM287 40h0.8v0.8h-0.8zM293 40h1.3v1.3h-1.3zM285 41h1.3v1.3h-1.3zM287 41h1.3v1.3h-1.3zM288 41h1.3v1.3h-1.3zM289 41h1.0v1.0h-1.0zM294 41h1.0v1.0h-1.0zM285 42h1.0v1.0h-1.0zM284 44h1.3v1.3h-1.3zM290 44h0.8v0.8h-0.8zM287 45h1.0v1.0h-1.0zM290 46h1.3v1.3h-1.3zM285 47h1.0v1.0h-1.0zM286 47h1.3v1.3h-1.3zM287 47h1.0v1.0h-1.0zM289 47h1.0v1.0h-1.0zM290 47h1.3v1.3h-1.3zM287 48h0.8v0.8h-0.8zM291 48h1.3v1.3h-1.3zM286 49h0.8v0.8h-0.8zM287 49h1.0v1.0h-1.0zM289 49h1.0v1.0h-1.0zM287 52h1.0v1.0h-1.0zM288 52h1.0v1.0h-1.0zM290 53h1.0v1.0h-1.0zM287 54h1.0v1.0h-1.0zM285 55h0.8v0.8h-0.8zM289 55h1.0v1.0h-1.0zM288 56h1.0v1.0h-1.0zM287 57h1.0v1.0h-1.0zM289 57h1.3v1.3h-1.3zM288 58h1.3v1.3h-1.3zM289 58h0.8v0.8h-0.8zM289 61h1.0v1.0h-1.0zM290 61h1.3v1.3h-1.3zM286 64h0.8v0.8h-0.8zM289 64h1.0v1.0h-1.0zM286 66h0.8v0.8h-0.8zM287 67h1.0v1.0h-1.0zM289 71h1.0v1.0h-1.0zM290 71h1.3v1.3h-1.3zM288 72h1.3v1.3h-1.3zM290 72h1.3v1.3h-1.3zM290 74h1.0v1.0h-1.0zM287 75h1.0v1.0h-1.0zM287 76h1.3v1.3h-1.3zM290 77h1.3v1.3h-1.3zM287 78h1.3v1.3h-1.3zM289 78h1.0v1.0h-1.0zM242 33h1.0v1.0h-1.0zM233 34h1.0v1.0h-1.0zM240 34h1.0v1.0h-1.0zM232 37h1.0v1.0h-1.0zM230 39h1.0v1.0h-1.0zM228 40h1.0v1.0h-1.0zM233 40h1.0v1.0h-1.0zM216 41h1.3v1.3h-1.3zM226 41h1.0v1.0h-1.0zM232 42h1.0v1.0h-1.0zM215 46h1.0v1.0h-1.0zM217 46h1.0v1.0h-1.0zM226 46h1.0v1.0h-1.0zM235 46h1.0v1.0h-1.0zM216 47h1.0v1.0h-1.0zM214 48h1.0v1.0h-1.0zM214 49h0.8v0.8h-0.8zM251 43h1.3v1.3h-1.3zM251 45h0.8v0.8h-0.8zM251 46h0.8v0.8h-0.8zM257 50h0.8v0.8h-0.8zM258 52h1.3v1.3h-1.3zM260 54h0.8v0.8h-0.8zM263 55h1.3v1.3h-1.3zM261 56h1.0v1.0h-1.0zM258 58h1.0v1.0h-1.0zM259 58h1.0v1.0h-1.0zM260 58h1.3v1.3h-1.3zM261 58h1.0v1.0h-1.0zM262 58h1.0v1.0h-1.0zM259 59h0.8v0.8h-0.8zM260 60h1.0v1.0h-1.0zM259 62h0.8v0.8h-0.8zM260 64h1.3v1.3h-1.3zM260 65h1.0v1.0h-1.0zM261 65h1.0v1.0h-1.0zM262 65h1.0v1.0h-1.0zM259 66h0.8v0.8h-0.8zM261 66h1.0v1.0h-1.0zM262 66h1.0v1.0h-1.0zM263 66h0.8v0.8h-0.8zM262 67h1.0v1.0h-1.0zM263 69h1.3v1.3h-1.3zM262 71h0.8v0.8h-0.8zM263 71h1.0v1.0h-1.0zM268 62h1.0v1.0h-1.0zM272 62h1.0v1.0h-1.0zM268 63h0.8v0.8h-0.8zM269 63h1.0v1.0h-1.0zM270 63h0.8v0.8h-0.8zM272 63h1.0v1.0h-1.0zM274 63h1.3v1.3h-1.3zM269 64h0.8v0.8h-0.8zM272 64h1.0v1.0h-1.0zM273 64h1.0v1.0h-1.0zM270 65h1.0v1.0h-1.0zM272 65h1.3v1.3h-1.3zM273 65h0.8v0.8h-0.8zM271 66h1.0v1.0h-1.0zM272 66h0.8v0.8h-0.8zM276 66h1.0v1.0h-1.0zM271 67h1.0v1.0h-1.0zM272 67h0.8v0.8h-0.8zM278 67h0.8v0.8h-0.8zM269 68h1.3v1.3h-1.3zM272 68h0.8v0.8h-0.8zM274 68h1.0v1.0h-1.0zM276 68h1.3v1.3h-1.3zM272 69h1.0v1.0h-1.0zM277 69h0.8v0.8h-0.8zM270 70h1.3v1.3h-1.3zM271 70h1.0v1.0h-1.0zM272 70h0.8v0.8h-0.8zM273 70h1.0v1.0h-1.0zM271 71h0.8v0.8h-0.8zM272 71h1.0v1.0h-1.0zM274 71h1.0v1.0h-1.0zM275 71h1.0v1.0h-1.0z" fill="#000"/>
<circle cx="274.0" cy="67.0" r="2.5" fill="#000"/>
<circle cx="262.3" cy="60.3" r="1.3" fill="#000"/>
<circle cx="266.5" cy="64.2" r="0.9" fill="#000"/>
<g fill="none" stroke="#efefef" stroke-width="0.9"><circle cx="213.85" cy="16.40" r="1.2"/><circle cx="213.85" cy="25.40" r="1.2"/><circle cx="213.85" cy="29.20" r="1.2"/><circle cx="213.85" cy="36.00" r="1.2"/><circle cx="213.85" cy="38.00" r="1.2"/><circle cx="213.85" cy="39.10" r="1.2"/><circle cx="213.85" cy="41.70" r="1.2"/><circle cx="213.85" cy="44.10" r="1.2"/><circle cx="213.85" cy="46.40" r="1.2"/><circle cx="213.85" cy="48.50" r="1.2"/><circle cx="213.85" cy="50.50" r="1.2"/><circle cx="213.85" cy="54.70" r="1.2"/><circle cx="213.85" cy="56.30" r="1.2"/><circle cx="213.85" cy="62.30" r="1.2"/><circle cx="213.85" cy="69.50" r="1.2"/><circle cx="213.85" cy="72.20" r="1.2"/><circle cx="213.85" cy="75.50" r="1.2"/><circle cx="213.85" cy="81.50" r="1.2"/><circle cx="213.85" cy="84.30" r="1.2"/><circle cx="213.85" cy="88.20" r="1.2"/><circle cx="213.85" cy="94.80" r="1.2"/><circle cx="213.85" cy="101.00" r="1.2"/><circle cx="213.85" cy="105.70" r="1.2"/><circle cx="213.85" cy="107.70" r="1.2"/><circle cx="213.85" cy="109.80" r="1.2"/><circle cx="242.93" cy="14.40" r="1.2"/><circle cx="242.93" cy="18.10" r="1.2"/><circle cx="242.93" cy="20.40" r="1.2"/><circle cx="242.93" cy="30.60" r="1.2"/><circle cx="242.93" cy="37.70" r="1.2"/><circle cx="242.93" cy="48.50" r="1.2"/><circle cx="242.93" cy="50.30" r="1.2"/><circle cx="242.93" cy="52.10" r="1.2"/><circle cx="242.93" cy="54.20" r="1.2"/><circle cx="242.93" cy="57.30" r="1.2"/><circle cx="242.93" cy="60.90" r="1.2"/><circle cx="242.93" cy="70.60" r="1.2"/><circle cx="242.93" cy="71.50" r="1.2"/><circle cx="242.93" cy="76.50" r="1.2"/><circle cx="242.93" cy="79.10" r="1.2"/><circle cx="242.93" cy="81.50" r="1.2"/><circle cx="242.93" cy="91.30" r="1.2"/><circle cx="242.93" cy="93.20" r="1.2"/><circle cx="242.93" cy="96.30" r="1.2"/><circle cx="242.93" cy="98.40" r="1.2"/><circle cx="242.93" cy="104.60" r="1.2"/><circle cx="242.93" cy="106.70" r="1.2"/><circle cx="242.93" cy="112.90" r="1.2"/><circle cx="273.93" cy="17.30" r="1.2"/><circle cx="273.93" cy="22.50" r="1.2"/><circle cx="273.93" cy="24.00" r="1.2"/><circle cx="273.93" cy="28.70" r="1.2"/><circle cx="273.93" cy="32.30" r="1.2"/><circle cx="273.93" cy="35.50" r="1.2"/><circle cx="273.93" cy="37.00" r="1.2"/><circle cx="273.93" cy="40.00" r="1.2"/><circle cx="273.93" cy="45.90" r="1.2"/><circle cx="273.93" cy="49.50" r="1.2"/><circle cx="273.93" cy="51.00" r="1.2"/><circle cx="273.93" cy="54.70" r="1.2"/><circle cx="273.93" cy="56.30" r="1.2"/><circle cx="273.93" cy="60.10" r="1.2"/><circle cx="273.93" cy="67.20" r="1.2"/><circle cx="273.93" cy="79.50" r="1.2"/><circle cx="273.93" cy="85.10" r="1.2"/><circle cx="273.93" cy="89.50" r="1.2"/><circle cx="273.93" cy="92.00" r="1.2"/><circle cx="273.93" cy="93.70" r="1.2"/><circle cx="273.93" cy="100.30" r="1.2"/><circle cx="273.93" cy="103.40" r="1.2"/><circle cx="273.93" cy="108.30" r="1.2"/><circle cx="273.93" cy="109.30" r="1.2"/><circle cx="305.13" cy="14.20" r="1.2"/><circle cx="305.13" cy="17.30" r="1.2"/><circle cx="305.13" cy="24.00" r="1.2"/><circle cx="305.13" cy="38.00" r="1.2"/><circle cx="305.13" cy="43.80" r="1.2"/><circle cx="305.13" cy="48.00" r="1.2"/><circle cx="305.13" cy="49.50" r="1.2"/><circle cx="305.13" cy="52.60" r="1.2"/><circle cx="305.13" cy="56.30" r="1.2"/><circle cx="305.13" cy="75.50" r="1.2"/><circle cx="305.13" cy="77.60" r="1.2"/><circle cx="305.13" cy="84.30" r="1.2"/><circle cx="305.13" cy="86.40" r="1.2"/><circle cx="305.13" cy="94.40" r="1.2"/><circle cx="305.13" cy="98.90" r="1.2"/><circle cx="305.13" cy="109.30" r="1.2"/></g>
</g>
<text x="260.50" y="10.90" text-anchor="middle" font-size="7.30">SIS-0.5-0</text>
<text x="226.17" y="123.20" text-anchor="middle" font-size="6.60">50</text>
<text x="243.33" y="123.20" text-anchor="middle" font-size="6.60">100</text>
<text x="260.50" y="123.20" text-anchor="middle" font-size="6.60">150</text>
<text x="277.67" y="123.20" text-anchor="middle" font-size="6.60">200</text>
<text x="294.83" y="123.20" text-anchor="middle" font-size="6.60">250</text>
<text x="312.00" y="123.20" text-anchor="middle" font-size="6.60">300</text>
<text x="206.70" y="99.80" text-anchor="end" font-size="6.60">50</text>
<text x="206.70" y="82.80" text-anchor="end" font-size="6.60">100</text>
<text x="206.70" y="65.80" text-anchor="end" font-size="6.60">150</text>
<text x="206.70" y="48.80" text-anchor="end" font-size="6.60">200</text>
<text x="206.70" y="31.80" text-anchor="end" font-size="6.60">250</text>
<text x="206.70" y="14.80" text-anchor="end" font-size="6.60">300</text>
<text x="260.50" y="131.80" text-anchor="middle" font-size="7.30">Easting</text>
<text transform="translate(193.80 63.20) rotate(-90)" text-anchor="middle" font-size="7.30">Northing</text>
<text x="192.40" y="130.00" font-size="6.4">D</text>
<rect x="315.20" y="50.00" width="11.80" height="11.60" fill="#fe0000" stroke="#500" stroke-width="0.55"/>
<rect x="315.20" y="70.80" width="11.80" height="11.60" fill="#000"/>
<text transform="translate(331.10 57.80) scale(0.91 1)" font-size="7.20">Mismatch</text>
<text transform="translate(331.10 78.10) scale(0.91 1)" font-size="7.20">Match</text></g>
<g><rect x="397.00" y="11.50" width="103.50" height="103.00" fill="#000"/>
<g clip-path="url(#c2)">
<path d="M419.40 11.50 L419.37 12.94 L419.90 14.20 L420.44 15.92 L421.50 17.30 L422.64 18.76 L423.60 20.40 L424.99 21.75 L426.20 23.00 L428.20 24.50 L429.33 25.07 L431.20 25.60 L433.03 25.62 L434.97 25.79 L436.40 25.60 L437.70 24.68 L438.90 24.45 L440.60 23.50 L442.05 22.29 L443.20 20.90 L444.02 19.87 L444.71 18.86 L445.80 17.80 L447.07 16.85 L448.90 15.70 L450.37 15.34 L451.43 14.37 L453.00 14.20 L454.27 13.92 L455.81 13.53 L457.20 12.90 L458.44 12.12 L459.80 11.50 L458.74 11.23 L456.79 11.57 L455.74 11.45 L454.29 11.45 L452.99 11.81 L451.73 11.61 L450.05 11.86 L448.65 11.60 L447.30 11.50 L447.09 13.00 L446.30 14.20 L444.91 15.39 L443.70 16.20 L442.75 17.40 L441.73 17.96 L440.60 18.80 L439.43 19.37 L437.50 19.90 L436.02 20.58 L435.06 20.30 L433.30 20.90 L431.59 21.89 L430.87 22.21 L429.20 23.00 L428.20 23.30 L426.70 21.40 L425.70 20.00 L425.10 18.30 L424.95 16.52 L424.10 15.20 L423.96 13.48 L423.90 11.50 L422.18 11.43 L420.61 11.48Z" fill="#fe0000"/>
<path d="M435.60 25.50 L438.00 25.20 L438.98 25.96 L440.40 27.40 L439.20 28.40 L437.91 27.32 L436.80 26.80Z" fill="#fe0000"/>
<path d="M397.00 48.70 L398.02 47.90 L399.58 47.50 L401.16 47.06 L402.30 46.60 L402.79 44.98 L403.54 44.06 L404.40 42.50 L405.19 41.44 L406.71 40.70 L407.50 39.40 L408.84 38.81 L410.35 37.45 L411.60 36.80 L412.67 35.84 L414.63 35.31 L415.80 34.70 L417.44 34.21 L418.87 32.94 L419.90 32.10 L420.91 31.49 L422.48 31.35 L424.10 30.80 L425.81 30.99 L427.36 30.87 L428.86 30.33 L430.30 30.20 L432.17 29.72 L433.50 29.60 L435.22 28.73 L436.50 27.50 L438.60 26.80 L440.39 27.65 L441.60 29.20 L442.22 30.79 L443.05 31.63 L444.20 32.90 L444.65 34.25 L445.24 36.00 L445.30 37.00 L445.37 38.17 L446.03 39.90 L445.90 41.40 L445.93 42.44 L445.97 44.13 L446.60 45.40 L447.36 46.85 L448.81 48.19 L449.40 49.60 L450.43 50.62 L450.94 52.54 L451.40 53.70 L452.54 54.37 L452.96 55.85 L453.80 56.83 L454.50 57.90 L455.92 59.12 L457.70 59.70 L459.44 59.86 L460.93 59.74 L462.00 59.70 L462.96 58.56 L464.60 57.10 L464.75 55.83 L465.65 53.93 L466.00 52.70 L466.39 50.95 L467.07 50.28 L468.00 48.50 L468.43 47.53 L469.01 45.82 L469.93 44.56 L470.60 43.40 L471.50 41.79 L471.65 40.36 L472.20 39.20 L473.20 37.10 L474.29 37.42 L475.87 37.42 L477.40 37.60 L479.10 37.27 L480.14 37.75 L482.45 37.21 L483.60 37.60 L484.96 38.05 L486.67 38.09 L487.82 38.13 L488.84 37.78 L490.88 37.76 L492.00 37.90 L493.37 37.86 L494.74 38.15 L496.63 37.68 L497.52 38.14 L499.28 38.15 L500.50 37.90 L500.50 38.70 L499.23 39.08 L497.94 38.91 L496.08 38.52 L495.12 39.19 L493.73 38.76 L492.00 39.00 L490.73 39.38 L488.85 38.70 L487.36 38.90 L486.30 39.42 L484.70 39.20 L483.41 40.15 L481.60 40.80 L480.92 42.38 L479.42 43.54 L478.40 44.40 L477.80 45.50 L476.92 46.74 L475.99 48.55 L475.30 49.60 L474.38 50.93 L474.20 52.03 L473.38 53.52 L473.20 54.80 L472.27 55.83 L471.60 57.50 L470.77 59.09 L470.10 60.40 L468.71 61.43 L468.00 62.00 L465.97 62.14 L464.49 62.62 L462.90 62.50 L461.91 62.81 L460.14 62.61 L459.26 62.88 L457.70 63.00 L456.41 63.51 L454.65 63.57 L453.50 64.00 L452.31 63.37 L450.40 63.00 L449.65 61.52 L447.94 60.60 L447.30 59.40 L446.83 58.18 L446.92 56.43 L446.40 55.50 L446.20 53.65 L446.00 52.00 L446.06 50.78 L445.77 49.19 L445.20 47.50 L444.38 46.23 L443.84 44.66 L443.10 43.40 L442.16 42.47 L441.87 41.09 L440.66 39.98 L440.00 39.20 L438.64 38.51 L437.50 38.00 L436.12 36.57 L435.40 34.90 L434.34 34.05 L433.33 32.89 L432.60 31.60 L430.30 31.60 L429.32 31.84 L427.46 32.98 L426.20 33.10 L424.72 33.83 L423.12 35.10 L422.00 35.70 L420.49 36.87 L419.31 37.18 L417.90 38.30 L416.89 39.15 L415.30 39.45 L413.70 39.90 L412.87 41.12 L411.39 41.43 L410.60 42.50 L409.76 43.33 L408.89 44.57 L407.47 44.93 L406.40 46.10 L405.12 46.88 L403.73 47.72 L402.30 48.20 L400.96 48.81 L399.73 48.53 L398.58 48.84 L397.00 49.40Z" fill="#fe0000"/>
<path d="M397.00 93.20 L398.72 93.31 L399.56 92.49 L401.20 92.50 L402.66 92.39 L403.70 92.55 L404.97 91.98 L406.40 92.20 L407.99 93.00 L409.50 93.20 L411.27 93.42 L412.50 94.13 L413.70 94.80 L415.48 95.41 L416.18 96.06 L417.90 96.90 L419.21 96.94 L420.72 97.36 L421.99 97.59 L423.10 98.10 L424.64 98.23 L425.97 97.93 L428.02 98.02 L429.30 98.10 L430.48 98.02 L432.05 98.04 L433.25 97.86 L434.50 97.40 L436.18 97.37 L437.57 96.82 L438.60 96.30 L440.06 95.21 L441.20 94.30 L441.42 93.40 L442.20 91.70 L442.80 90.60 L443.54 89.60 L444.46 87.89 L444.90 87.00 L446.16 86.49 L447.35 85.62 L448.00 84.40 L449.60 83.00 L450.36 82.11 L451.07 80.88 L451.70 79.40 L452.96 78.07 L453.13 77.13 L454.30 75.70 L456.05 75.79 L457.07 75.19 L458.50 75.00 L459.50 75.33 L460.92 74.80 L462.08 75.49 L463.70 75.20 L465.00 75.77 L466.09 75.85 L467.80 76.20 L469.55 75.67 L470.90 74.70 L472.25 75.43 L474.10 76.20 L475.18 77.76 L475.44 78.74 L476.60 79.90 L477.78 81.03 L478.56 81.80 L479.20 83.00 L480.26 83.64 L481.57 85.12 L482.40 86.10 L483.51 87.32 L484.90 87.46 L486.50 88.70 L487.71 89.40 L488.69 90.48 L489.60 91.80 L490.28 93.02 L491.82 93.99 L492.80 94.90 L494.33 95.94 L495.27 96.57 L496.90 97.50 L498.17 98.39 L499.42 98.69 L500.50 99.30 L500.50 100.20 L499.56 99.94 L497.90 98.88 L496.90 98.60 L495.14 98.20 L493.94 97.26 L492.80 96.50 L491.22 96.13 L489.60 95.50 L488.92 94.56 L487.27 93.31 L486.50 92.30 L485.21 91.01 L484.63 90.02 L483.40 88.70 L482.47 87.96 L481.73 86.43 L480.30 85.60 L479.43 84.68 L477.85 83.93 L477.20 82.50 L475.57 81.84 L474.10 80.90 L472.28 79.79 L470.90 78.80 L469.04 78.17 L467.80 76.80 L466.07 76.46 L465.25 76.86 L463.70 76.80 L462.16 77.65 L461.06 77.76 L459.50 78.30 L458.12 79.45 L456.40 79.90 L454.90 80.54 L452.80 81.40 L451.97 82.48 L450.70 84.00 L449.74 85.63 L449.15 86.39 L448.10 87.70 L447.40 89.15 L446.80 90.72 L445.90 92.20 L445.16 93.50 L444.80 95.18 L443.80 96.30 L442.59 97.82 L441.80 99.50 L440.52 100.33 L438.60 100.80 L437.31 101.04 L435.63 101.12 L434.50 101.20 L433.40 100.98 L431.83 100.79 L430.68 100.45 L429.30 100.50 L428.01 99.90 L426.42 100.02 L424.45 99.55 L423.10 99.50 L421.62 98.88 L420.89 98.62 L418.87 98.58 L417.90 98.10 L416.88 97.16 L414.89 96.63 L413.70 95.80 L412.16 95.27 L410.96 95.20 L409.50 94.30 L407.85 93.79 L406.40 93.50 L405.27 93.66 L404.10 93.65 L402.61 93.81 L401.20 93.90 L399.88 94.12 L398.13 94.07 L397.00 94.60Z" fill="#fe0000"/>
<g fill="none" stroke="#efefef" stroke-width="0.9"><circle cx="401.87" cy="15.74" r="1.2"/><circle cx="401.87" cy="24.83" r="1.2"/><circle cx="401.87" cy="28.67" r="1.2"/><circle cx="401.87" cy="35.53" r="1.2"/><circle cx="401.87" cy="37.55" r="1.2"/><circle cx="401.87" cy="38.66" r="1.2"/><circle cx="401.87" cy="41.29" r="1.2"/><circle cx="401.87" cy="43.71" r="1.2"/><circle cx="401.87" cy="46.04" r="1.2"/><circle cx="401.87" cy="48.16" r="1.2"/><circle cx="401.87" cy="50.18" r="1.2"/><circle cx="401.87" cy="54.42" r="1.2"/><circle cx="401.87" cy="56.03" r="1.2"/><circle cx="401.87" cy="62.09" r="1.2"/><circle cx="401.87" cy="69.36" r="1.2"/><circle cx="401.87" cy="72.09" r="1.2"/><circle cx="401.87" cy="75.42" r="1.2"/><circle cx="401.87" cy="81.48" r="1.2"/><circle cx="401.87" cy="84.31" r="1.2"/><circle cx="401.87" cy="88.25" r="1.2"/><circle cx="401.87" cy="94.91" r="1.2"/><circle cx="401.87" cy="101.17" r="1.2"/><circle cx="401.87" cy="105.92" r="1.2"/><circle cx="401.87" cy="107.94" r="1.2"/><circle cx="401.87" cy="110.06" r="1.2"/><circle cx="431.09" cy="13.72" r="1.2"/><circle cx="431.09" cy="17.46" r="1.2"/><circle cx="431.09" cy="19.78" r="1.2"/><circle cx="431.09" cy="30.08" r="1.2"/><circle cx="431.09" cy="37.25" r="1.2"/><circle cx="431.09" cy="48.16" r="1.2"/><circle cx="431.09" cy="49.97" r="1.2"/><circle cx="431.09" cy="51.79" r="1.2"/><circle cx="431.09" cy="53.91" r="1.2"/><circle cx="431.09" cy="57.04" r="1.2"/><circle cx="431.09" cy="60.68" r="1.2"/><circle cx="431.09" cy="70.47" r="1.2"/><circle cx="431.09" cy="71.38" r="1.2"/><circle cx="431.09" cy="76.43" r="1.2"/><circle cx="431.09" cy="79.06" r="1.2"/><circle cx="431.09" cy="81.48" r="1.2"/><circle cx="431.09" cy="91.38" r="1.2"/><circle cx="431.09" cy="93.29" r="1.2"/><circle cx="431.09" cy="96.42" r="1.2"/><circle cx="431.09" cy="98.55" r="1.2"/><circle cx="431.09" cy="104.81" r="1.2"/><circle cx="431.09" cy="106.93" r="1.2"/><circle cx="431.09" cy="113.19" r="1.2"/><circle cx="462.25" cy="16.65" r="1.2"/><circle cx="462.25" cy="21.90" r="1.2"/><circle cx="462.25" cy="23.42" r="1.2"/><circle cx="462.25" cy="28.16" r="1.2"/><circle cx="462.25" cy="31.80" r="1.2"/><circle cx="462.25" cy="35.03" r="1.2"/><circle cx="462.25" cy="36.54" r="1.2"/><circle cx="462.25" cy="39.57" r="1.2"/><circle cx="462.25" cy="45.53" r="1.2"/><circle cx="462.25" cy="49.17" r="1.2"/><circle cx="462.25" cy="50.68" r="1.2"/><circle cx="462.25" cy="54.42" r="1.2"/><circle cx="462.25" cy="56.03" r="1.2"/><circle cx="462.25" cy="59.87" r="1.2"/><circle cx="462.25" cy="67.04" r="1.2"/><circle cx="462.25" cy="79.46" r="1.2"/><circle cx="462.25" cy="85.11" r="1.2"/><circle cx="462.25" cy="89.56" r="1.2"/><circle cx="462.25" cy="92.08" r="1.2"/><circle cx="462.25" cy="93.80" r="1.2"/><circle cx="462.25" cy="100.46" r="1.2"/><circle cx="462.25" cy="103.59" r="1.2"/><circle cx="462.25" cy="108.54" r="1.2"/><circle cx="462.25" cy="109.55" r="1.2"/><circle cx="493.60" cy="13.52" r="1.2"/><circle cx="493.60" cy="16.65" r="1.2"/><circle cx="493.60" cy="23.42" r="1.2"/><circle cx="493.60" cy="37.55" r="1.2"/><circle cx="493.60" cy="43.41" r="1.2"/><circle cx="493.60" cy="47.65" r="1.2"/><circle cx="493.60" cy="49.17" r="1.2"/><circle cx="493.60" cy="52.30" r="1.2"/><circle cx="493.60" cy="56.03" r="1.2"/><circle cx="493.60" cy="75.42" r="1.2"/><circle cx="493.60" cy="77.54" r="1.2"/><circle cx="493.60" cy="84.31" r="1.2"/><circle cx="493.60" cy="86.43" r="1.2"/><circle cx="493.60" cy="94.51" r="1.2"/><circle cx="493.60" cy="99.05" r="1.2"/><circle cx="493.60" cy="109.55" r="1.2"/></g>
</g>
<text x="448.75" y="10.20" text-anchor="middle" font-size="7.30">SIS-2-0</text>
<text x="414.25" y="123.50" text-anchor="middle" font-size="6.60">50</text>
<text x="431.50" y="123.50" text-anchor="middle" font-size="6.60">100</text>
<text x="448.75" y="123.50" text-anchor="middle" font-size="6.60">150</text>
<text x="466.00" y="123.50" text-anchor="middle" font-size="6.60">200</text>
<text x="483.25" y="123.50" text-anchor="middle" font-size="6.60">250</text>
<text x="500.50" y="123.50" text-anchor="middle" font-size="6.60">300</text>
<text x="394.70" y="99.93" text-anchor="end" font-size="6.60">50</text>
<text x="394.70" y="82.77" text-anchor="end" font-size="6.60">100</text>
<text x="394.70" y="65.60" text-anchor="end" font-size="6.60">150</text>
<text x="394.70" y="48.43" text-anchor="end" font-size="6.60">200</text>
<text x="394.70" y="31.27" text-anchor="end" font-size="6.60">250</text>
<text x="394.70" y="14.10" text-anchor="end" font-size="6.60">300</text>
<text x="448.75" y="132.00" text-anchor="middle" font-size="7.30">Easting</text>
<text transform="translate(381.80 63.00) rotate(-90)" text-anchor="middle" font-size="7.30">Northing</text>
<text x="380.40" y="131.90" font-size="6.4">D</text>
<rect x="503.70" y="50.70" width="11.90" height="11.50" fill="#fe0000" stroke="#500" stroke-width="0.55"/>
<rect x="503.70" y="71.10" width="11.90" height="11.50" fill="#000"/>
<text transform="translate(520.10 58.70) scale(0.91 1)" font-size="7.14">Mismatch</text>
<text transform="translate(520.10 79.40) scale(0.91 1)" font-size="7.14">Match</text></g>
<g><rect x="115.00" y="157.00" width="108.00" height="107.20" fill="#000"/>
<g clip-path="url(#c3)">
<path d="M115.00 240.24 L119.45 240.24 L123.89 240.45 L127.18 240.97 L131.62 243.18 L137.13 245.70 L142.64 246.96 L149.20 247.17 L154.71 246.44 L159.05 244.76 L161.80 242.65 L162.96 238.24 L165.72 234.46 L169.00 232.04 L171.33 228.99 L173.55 224.58 L176.84 222.48 L182.34 221.53 L187.85 222.27 L192.19 224.58 L194.94 227.94 L196.42 229.94 L200.24 231.09 L204.68 234.35 L209.13 237.08 L211.88 239.82 L214.00 243.08 L217.92 245.28 L223.00 246.33 L223.00 249.07 L217.92 246.86 L213.47 245.28 L209.13 244.13 L205.74 242.02 L202.46 238.14 L199.18 233.83 L196.42 230.25 L194.41 229.52 L191.13 226.79 L187.85 225.21 L183.40 224.58 L179.06 226.26 L175.78 228.47 L172.39 230.04 L170.27 232.46 L169.00 236.03 L166.78 240.45 L165.19 243.71 L162.44 247.49 L159.05 249.70 L154.71 250.43 L149.20 250.22 L142.64 248.96 L137.13 246.96 L132.68 244.76 L128.24 242.87 L123.89 242.02 L119.45 242.44 L115.00 242.87Z" fill="#fe0000"/>
<path d="M135.90 157.00 L136.40 160.20 L138.50 163.80 L141.60 166.90 L145.20 169.50 L149.40 170.50 L154.20 169.60 L158.30 168.00 L161.40 165.40 L164.50 162.30 L168.70 160.20 L173.90 159.20 L179.10 157.60 L181.20 157.00 L168.20 157.00 L167.10 158.60 L164.50 160.70 L161.40 162.80 L158.30 164.90 L154.20 165.90 L151.00 167.60 L148.80 168.50 L146.80 168.00 L144.70 164.40 L143.60 160.20 L143.10 157.00Z" fill="#fe0000"/>
<path d="M115.00 194.50 L120.30 193.30 L122.40 188.60 L125.50 185.00 L129.60 182.40 L134.80 180.30 L139.00 177.70 L143.10 176.10 L148.30 176.10 L150.90 177.20 L154.60 178.70 L158.70 179.00 L161.80 180.80 L163.90 183.90 L165.50 187.50 L167.00 191.20 L169.80 195.80 L172.10 200.40 L174.40 204.40 L177.80 206.70 L182.40 207.00 L184.70 205.50 L185.80 201.50 L188.10 195.80 L191.00 190.70 L193.30 185.60 L194.40 183.30 L199.50 183.90 L206.40 183.50 L215.50 183.50 L223.00 183.50 L223.00 184.40 L211.00 184.40 L206.40 185.00 L203.50 187.30 L201.20 191.30 L199.00 195.30 L196.70 200.40 L194.40 205.00 L191.50 208.40 L185.80 209.50 L180.10 209.30 L175.60 208.40 L172.70 206.70 L170.40 202.70 L168.10 198.10 L165.40 192.40 L162.90 188.60 L159.80 185.00 L156.60 181.80 L154.00 179.80 L151.40 178.40 L148.30 178.70 L144.20 180.30 L141.10 182.90 L137.90 186.00 L133.80 188.60 L129.60 191.20 L125.50 193.30 L120.30 194.60 L115.00 195.70Z" fill="#fe0000"/>
<g fill="none" stroke="#efefef" stroke-width="0.9"><circle cx="120.08" cy="161.41" r="1.2"/><circle cx="120.08" cy="170.87" r="1.2"/><circle cx="120.08" cy="174.87" r="1.2"/><circle cx="120.08" cy="182.01" r="1.2"/><circle cx="120.08" cy="184.12" r="1.2"/><circle cx="120.08" cy="185.27" r="1.2"/><circle cx="120.08" cy="188.00" r="1.2"/><circle cx="120.08" cy="190.53" r="1.2"/><circle cx="120.08" cy="192.94" r="1.2"/><circle cx="120.08" cy="195.15" r="1.2"/><circle cx="120.08" cy="197.25" r="1.2"/><circle cx="120.08" cy="201.67" r="1.2"/><circle cx="120.08" cy="203.35" r="1.2"/><circle cx="120.08" cy="209.65" r="1.2"/><circle cx="120.08" cy="217.22" r="1.2"/><circle cx="120.08" cy="220.06" r="1.2"/><circle cx="120.08" cy="223.53" r="1.2"/><circle cx="120.08" cy="229.83" r="1.2"/><circle cx="120.08" cy="232.78" r="1.2"/><circle cx="120.08" cy="236.87" r="1.2"/><circle cx="120.08" cy="243.81" r="1.2"/><circle cx="120.08" cy="250.33" r="1.2"/><circle cx="120.08" cy="255.27" r="1.2"/><circle cx="120.08" cy="257.37" r="1.2"/><circle cx="120.08" cy="259.58" r="1.2"/><circle cx="150.58" cy="159.31" r="1.2"/><circle cx="150.58" cy="163.20" r="1.2"/><circle cx="150.58" cy="165.62" r="1.2"/><circle cx="150.58" cy="176.34" r="1.2"/><circle cx="150.58" cy="183.80" r="1.2"/><circle cx="150.58" cy="195.15" r="1.2"/><circle cx="150.58" cy="197.04" r="1.2"/><circle cx="150.58" cy="198.93" r="1.2"/><circle cx="150.58" cy="201.14" r="1.2"/><circle cx="150.58" cy="204.40" r="1.2"/><circle cx="150.58" cy="208.18" r="1.2"/><circle cx="150.58" cy="218.38" r="1.2"/><circle cx="150.58" cy="219.32" r="1.2"/><circle cx="150.58" cy="224.58" r="1.2"/><circle cx="150.58" cy="227.31" r="1.2"/><circle cx="150.58" cy="229.83" r="1.2"/><circle cx="150.58" cy="240.13" r="1.2"/><circle cx="150.58" cy="242.13" r="1.2"/><circle cx="150.58" cy="245.39" r="1.2"/><circle cx="150.58" cy="247.59" r="1.2"/><circle cx="150.58" cy="254.11" r="1.2"/><circle cx="150.58" cy="256.32" r="1.2"/><circle cx="150.58" cy="262.83" r="1.2"/><circle cx="183.08" cy="162.36" r="1.2"/><circle cx="183.08" cy="167.83" r="1.2"/><circle cx="183.08" cy="169.40" r="1.2"/><circle cx="183.08" cy="174.34" r="1.2"/><circle cx="183.08" cy="178.12" r="1.2"/><circle cx="183.08" cy="181.49" r="1.2"/><circle cx="183.08" cy="183.06" r="1.2"/><circle cx="183.08" cy="186.22" r="1.2"/><circle cx="183.08" cy="192.42" r="1.2"/><circle cx="183.08" cy="196.20" r="1.2"/><circle cx="183.08" cy="197.78" r="1.2"/><circle cx="183.08" cy="201.67" r="1.2"/><circle cx="183.08" cy="203.35" r="1.2"/><circle cx="183.08" cy="207.34" r="1.2"/><circle cx="183.08" cy="214.80" r="1.2"/><circle cx="183.08" cy="227.73" r="1.2"/><circle cx="183.08" cy="233.62" r="1.2"/><circle cx="183.08" cy="238.24" r="1.2"/><circle cx="183.08" cy="240.87" r="1.2"/><circle cx="183.08" cy="242.65" r="1.2"/><circle cx="183.08" cy="249.59" r="1.2"/><circle cx="183.08" cy="252.85" r="1.2"/><circle cx="183.08" cy="258.00" r="1.2"/><circle cx="183.08" cy="259.05" r="1.2"/><circle cx="215.80" cy="159.10" r="1.2"/><circle cx="215.80" cy="162.36" r="1.2"/><circle cx="215.80" cy="169.40" r="1.2"/><circle cx="215.80" cy="184.12" r="1.2"/><circle cx="215.80" cy="190.21" r="1.2"/><circle cx="215.80" cy="194.63" r="1.2"/><circle cx="215.80" cy="196.20" r="1.2"/><circle cx="215.80" cy="199.46" r="1.2"/><circle cx="215.80" cy="203.35" r="1.2"/><circle cx="215.80" cy="223.53" r="1.2"/><circle cx="215.80" cy="225.73" r="1.2"/><circle cx="215.80" cy="232.78" r="1.2"/><circle cx="215.80" cy="234.98" r="1.2"/><circle cx="215.80" cy="243.39" r="1.2"/><circle cx="215.80" cy="248.12" r="1.2"/><circle cx="215.80" cy="259.05" r="1.2"/></g>
</g>
<text x="169.00" y="155.70" text-anchor="middle" font-size="7.59">SIS-1-1</text>
<text x="133.00" y="273.20" text-anchor="middle" font-size="6.86">50</text>
<text x="151.00" y="273.20" text-anchor="middle" font-size="6.86">100</text>
<text x="169.00" y="273.20" text-anchor="middle" font-size="6.86">150</text>
<text x="187.00" y="273.20" text-anchor="middle" font-size="6.86">200</text>
<text x="205.00" y="273.20" text-anchor="middle" font-size="6.86">250</text>
<text x="223.00" y="273.20" text-anchor="middle" font-size="6.86">300</text>
<text x="112.70" y="248.93" text-anchor="end" font-size="6.86">50</text>
<text x="112.70" y="231.07" text-anchor="end" font-size="6.86">100</text>
<text x="112.70" y="213.20" text-anchor="end" font-size="6.86">150</text>
<text x="112.70" y="195.33" text-anchor="end" font-size="6.86">200</text>
<text x="112.70" y="177.47" text-anchor="end" font-size="6.86">250</text>
<text x="112.70" y="159.60" text-anchor="end" font-size="6.86">300</text>
<text x="169.00" y="282.40" text-anchor="middle" font-size="7.59">Easting</text>
<text transform="translate(99.20 210.60) rotate(-90)" text-anchor="middle" font-size="7.59">Northing</text>
<text x="97.50" y="281.60" font-size="6.4">E</text>
<rect x="227.80" y="195.70" width="12.40" height="12.50" fill="#fe0000" stroke="#500" stroke-width="0.55"/>
<rect x="227.80" y="217.30" width="12.40" height="12.50" fill="#000"/>
<text transform="translate(244.70 204.00) scale(0.91 1)" font-size="7.47">Mismatch</text>
<text transform="translate(244.70 226.20) scale(0.91 1)" font-size="7.47">Match</text></g>
<g><rect x="398.00" y="160.50" width="100.50" height="100.00" fill="#000"/>
<g clip-path="url(#c4)">
<path d="M418.30 160.50 L419.26 162.18 L419.40 163.20 L420.31 164.15 L420.65 165.79 L421.50 166.80 L423.08 167.67 L424.10 169.40 L425.35 170.81 L427.20 171.50 L428.16 172.29 L429.80 172.80 L431.45 172.53 L433.40 172.00 L435.13 171.91 L436.10 171.51 L437.60 171.50 L439.26 170.82 L440.70 169.90 L441.67 168.87 L442.80 167.90 L443.83 166.63 L444.80 165.80 L446.06 165.06 L447.90 164.20 L448.91 163.95 L450.90 163.83 L452.00 163.20 L453.28 162.72 L455.38 162.26 L456.50 162.00 L458.69 160.98 L460.00 160.50 L459.00 160.09 L457.53 160.77 L456.11 160.62 L455.13 160.95 L453.16 160.52 L451.73 160.39 L450.51 160.19 L449.63 160.13 L447.90 160.06 L446.90 160.50 L445.90 161.10 L445.13 161.92 L443.80 163.20 L442.37 164.36 L441.70 165.30 L440.85 166.47 L439.60 167.40 L438.34 168.43 L437.00 169.40 L435.40 169.78 L433.40 170.50 L432.16 171.07 L430.30 171.30 L428.20 169.90 L427.47 168.70 L426.10 166.80 L425.91 165.62 L425.12 164.61 L424.60 163.20 L424.42 161.43 L424.10 160.50 L423.03 160.23 L421.19 160.46 L419.38 160.57Z" fill="#fe0000"/>
<path d="M398.00 196.30 L399.41 196.31 L400.75 195.58 L402.03 195.89 L403.30 195.20 L403.92 193.94 L403.86 192.24 L404.80 190.50 L405.41 189.00 L406.38 187.81 L407.40 186.90 L408.43 185.77 L409.96 184.94 L411.60 184.30 L413.17 183.40 L413.93 182.85 L415.51 182.48 L416.80 182.20 L418.19 181.10 L419.26 180.46 L420.90 179.60 L421.91 179.61 L423.76 178.84 L425.10 178.60 L426.69 179.00 L428.19 178.50 L429.50 178.49 L431.30 178.60 L433.10 179.75 L434.40 180.70 L435.80 181.56 L437.60 181.70 L438.30 182.44 L439.92 183.81 L440.70 184.30 L441.70 185.06 L442.82 186.63 L443.80 187.90 L444.08 189.33 L445.54 190.62 L445.90 192.60 L446.41 193.65 L447.50 195.30 L448.62 196.50 L449.37 198.21 L449.61 199.37 L450.90 200.80 L451.29 202.57 L452.36 203.68 L453.10 205.30 L454.48 206.32 L454.91 206.40 L456.40 207.50 L457.71 207.40 L459.28 207.57 L460.80 207.70 L462.33 206.65 L463.00 205.30 L463.98 203.91 L463.89 202.36 L464.70 200.80 L465.13 199.41 L465.85 198.25 L466.90 196.40 L467.46 195.29 L468.11 193.20 L469.10 192.00 L469.44 190.79 L470.53 189.22 L470.80 187.50 L471.42 185.98 L471.90 185.10 L473.04 184.88 L475.04 185.17 L476.22 185.25 L477.40 185.90 L478.61 185.84 L479.91 185.21 L481.96 185.26 L483.00 185.30 L484.10 185.52 L486.52 185.42 L487.20 185.35 L489.26 185.23 L490.70 185.50 L491.93 185.72 L493.44 185.80 L495.01 185.52 L496.33 185.16 L497.22 185.66 L498.50 185.50 L498.50 186.20 L497.46 186.24 L495.59 186.70 L494.19 186.02 L492.74 186.28 L491.50 186.84 L489.52 186.46 L488.50 186.70 L487.39 187.44 L485.82 187.53 L484.10 188.10 L482.86 189.26 L480.80 189.80 L479.94 191.19 L478.50 192.50 L477.53 193.57 L476.30 195.30 L475.15 196.33 L474.43 198.24 L474.10 199.70 L473.97 201.23 L473.29 202.86 L472.50 204.10 L472.50 205.20 L471.70 207.08 L471.30 208.00 L469.88 208.74 L468.69 208.82 L467.50 209.70 L465.83 209.62 L464.28 210.14 L463.17 209.62 L461.90 209.90 L460.80 209.36 L459.39 209.66 L457.41 209.51 L456.40 209.50 L455.19 208.09 L453.10 207.50 L451.81 206.08 L450.98 204.96 L449.80 204.10 L449.54 202.60 L449.06 201.01 L447.83 199.55 L447.50 198.60 L446.34 196.82 L446.00 195.60 L445.35 194.48 L444.74 193.03 L443.80 192.10 L443.11 191.49 L442.09 189.76 L441.19 189.37 L440.70 187.90 L439.79 186.69 L438.63 185.12 L437.60 184.30 L436.29 183.61 L435.24 182.58 L434.40 181.70 L433.21 180.66 L431.30 180.20 L429.91 180.94 L428.79 181.49 L427.20 181.70 L426.02 182.57 L424.10 183.30 L422.80 184.61 L422.00 185.90 L421.33 187.18 L419.90 189.00 L418.68 189.59 L418.17 190.37 L416.80 191.60 L415.09 192.56 L414.21 193.26 L412.60 194.20 L411.46 194.89 L409.77 194.82 L408.50 195.70 L407.37 195.98 L406.31 196.23 L404.21 195.95 L403.30 196.40 L401.80 196.73 L400.48 196.41 L399.04 196.57 L398.00 196.90Z" fill="#fe0000"/>
<path d="M398.00 237.10 L399.40 237.62 L401.11 237.41 L402.20 238.10 L403.55 238.78 L404.71 238.26 L406.24 239.14 L407.40 239.10 L408.39 239.19 L410.03 239.91 L411.60 240.50 L412.55 240.65 L414.13 241.96 L415.56 241.87 L416.80 242.60 L418.51 242.75 L419.08 242.96 L420.27 244.02 L422.00 244.00 L423.33 244.58 L424.64 243.91 L425.78 244.31 L427.20 244.60 L428.26 244.12 L430.10 244.73 L431.30 244.30 L433.09 243.90 L434.20 243.75 L435.50 243.80 L437.18 243.67 L437.79 242.52 L439.60 242.30 L441.23 241.68 L442.20 240.20 L442.81 237.96 L442.80 236.50 L443.89 235.19 L444.80 233.40 L445.63 232.17 L446.58 230.47 L447.10 229.60 L448.03 228.62 L448.88 226.67 L449.70 225.40 L450.42 224.20 L451.80 222.30 L453.75 221.96 L455.40 220.80 L457.22 220.84 L458.52 220.82 L459.60 220.40 L461.12 220.15 L462.36 220.30 L463.29 220.13 L464.80 219.70 L466.69 219.09 L468.40 218.70 L470.00 217.60 L470.69 219.28 L471.50 220.20 L471.98 220.86 L473.23 221.98 L474.10 223.40 L475.45 225.14 L476.04 226.00 L477.20 227.50 L478.21 229.05 L479.06 230.25 L479.80 231.10 L480.89 231.94 L482.44 233.05 L483.50 233.70 L484.94 234.62 L486.60 235.80 L487.95 237.18 L488.70 238.04 L489.70 239.50 L490.98 239.99 L492.27 240.86 L493.90 242.10 L495.19 242.54 L497.02 243.08 L498.50 243.10 L498.50 244.50 L497.03 244.06 L495.30 244.20 L493.90 243.60 L491.92 242.80 L490.80 242.60 L489.15 241.73 L487.60 241.50 L485.96 240.44 L484.50 240.00 L483.57 239.46 L482.34 238.51 L481.40 237.40 L480.25 235.65 L479.68 234.86 L479.30 233.20 L478.40 232.06 L478.23 230.86 L477.20 229.60 L475.57 228.84 L474.10 228.00 L472.69 227.33 L471.00 226.50 L469.49 225.37 L467.90 224.90 L466.77 224.60 L464.80 223.90 L463.74 224.33 L461.75 224.18 L460.60 224.40 L459.14 224.61 L457.50 225.40 L456.42 226.09 L454.84 227.18 L453.40 227.50 L451.64 228.16 L450.20 229.10 L449.25 229.77 L447.91 230.90 L447.10 232.20 L447.02 233.59 L446.37 234.86 L445.60 236.00 L444.79 237.43 L444.30 239.10 L443.96 240.80 L442.80 242.30 L441.30 243.24 L439.60 244.30 L438.60 244.59 L437.21 245.55 L435.50 245.90 L434.31 246.61 L432.69 246.46 L431.30 246.70 L429.86 246.76 L428.88 246.74 L427.20 246.40 L425.66 246.43 L424.18 246.03 L423.01 245.49 L422.00 245.40 L420.76 244.68 L419.60 244.75 L418.35 244.18 L416.80 243.80 L415.81 243.49 L414.24 242.89 L412.68 242.31 L411.60 241.70 L410.00 240.98 L408.89 241.28 L407.40 240.50 L405.64 240.20 L404.06 240.23 L402.20 240.50 L400.93 240.78 L399.14 240.45 L398.00 240.70 L397.95 239.05Z" fill="#fe0000"/>
<g fill="none" stroke="#efefef" stroke-width="0.9"><circle cx="402.73" cy="164.62" r="1.2"/><circle cx="402.73" cy="173.44" r="1.2"/><circle cx="402.73" cy="177.17" r="1.2"/><circle cx="402.73" cy="183.83" r="1.2"/><circle cx="402.73" cy="185.79" r="1.2"/><circle cx="402.73" cy="186.87" r="1.2"/><circle cx="402.73" cy="189.42" r="1.2"/><circle cx="402.73" cy="191.77" r="1.2"/><circle cx="402.73" cy="194.03" r="1.2"/><circle cx="402.73" cy="196.09" r="1.2"/><circle cx="402.73" cy="198.05" r="1.2"/><circle cx="402.73" cy="202.17" r="1.2"/><circle cx="402.73" cy="203.74" r="1.2"/><circle cx="402.73" cy="209.62" r="1.2"/><circle cx="402.73" cy="216.68" r="1.2"/><circle cx="402.73" cy="219.32" r="1.2"/><circle cx="402.73" cy="222.56" r="1.2"/><circle cx="402.73" cy="228.44" r="1.2"/><circle cx="402.73" cy="231.19" r="1.2"/><circle cx="402.73" cy="235.01" r="1.2"/><circle cx="402.73" cy="241.48" r="1.2"/><circle cx="402.73" cy="247.56" r="1.2"/><circle cx="402.73" cy="252.17" r="1.2"/><circle cx="402.73" cy="254.13" r="1.2"/><circle cx="402.73" cy="256.19" r="1.2"/><circle cx="431.11" cy="162.66" r="1.2"/><circle cx="431.11" cy="166.28" r="1.2"/><circle cx="431.11" cy="168.54" r="1.2"/><circle cx="431.11" cy="178.54" r="1.2"/><circle cx="431.11" cy="185.50" r="1.2"/><circle cx="431.11" cy="196.09" r="1.2"/><circle cx="431.11" cy="197.85" r="1.2"/><circle cx="431.11" cy="199.62" r="1.2"/><circle cx="431.11" cy="201.68" r="1.2"/><circle cx="431.11" cy="204.72" r="1.2"/><circle cx="431.11" cy="208.25" r="1.2"/><circle cx="431.11" cy="217.75" r="1.2"/><circle cx="431.11" cy="218.64" r="1.2"/><circle cx="431.11" cy="223.54" r="1.2"/><circle cx="431.11" cy="226.09" r="1.2"/><circle cx="431.11" cy="228.44" r="1.2"/><circle cx="431.11" cy="238.05" r="1.2"/><circle cx="431.11" cy="239.91" r="1.2"/><circle cx="431.11" cy="242.95" r="1.2"/><circle cx="431.11" cy="245.01" r="1.2"/><circle cx="431.11" cy="251.09" r="1.2"/><circle cx="431.11" cy="253.15" r="1.2"/><circle cx="431.11" cy="259.23" r="1.2"/><circle cx="461.35" cy="165.50" r="1.2"/><circle cx="461.35" cy="170.60" r="1.2"/><circle cx="461.35" cy="172.07" r="1.2"/><circle cx="461.35" cy="176.68" r="1.2"/><circle cx="461.35" cy="180.21" r="1.2"/><circle cx="461.35" cy="183.34" r="1.2"/><circle cx="461.35" cy="184.81" r="1.2"/><circle cx="461.35" cy="187.75" r="1.2"/><circle cx="461.35" cy="193.54" r="1.2"/><circle cx="461.35" cy="197.07" r="1.2"/><circle cx="461.35" cy="198.54" r="1.2"/><circle cx="461.35" cy="202.17" r="1.2"/><circle cx="461.35" cy="203.74" r="1.2"/><circle cx="461.35" cy="207.46" r="1.2"/><circle cx="461.35" cy="214.42" r="1.2"/><circle cx="461.35" cy="226.48" r="1.2"/><circle cx="461.35" cy="231.97" r="1.2"/><circle cx="461.35" cy="236.28" r="1.2"/><circle cx="461.35" cy="238.74" r="1.2"/><circle cx="461.35" cy="240.40" r="1.2"/><circle cx="461.35" cy="246.87" r="1.2"/><circle cx="461.35" cy="249.91" r="1.2"/><circle cx="461.35" cy="254.72" r="1.2"/><circle cx="461.35" cy="255.70" r="1.2"/><circle cx="491.80" cy="162.46" r="1.2"/><circle cx="491.80" cy="165.50" r="1.2"/><circle cx="491.80" cy="172.07" r="1.2"/><circle cx="491.80" cy="185.79" r="1.2"/><circle cx="491.80" cy="191.48" r="1.2"/><circle cx="491.80" cy="195.60" r="1.2"/><circle cx="491.80" cy="197.07" r="1.2"/><circle cx="491.80" cy="200.11" r="1.2"/><circle cx="491.80" cy="203.74" r="1.2"/><circle cx="491.80" cy="222.56" r="1.2"/><circle cx="491.80" cy="224.62" r="1.2"/><circle cx="491.80" cy="231.19" r="1.2"/><circle cx="491.80" cy="233.25" r="1.2"/><circle cx="491.80" cy="241.09" r="1.2"/><circle cx="491.80" cy="245.50" r="1.2"/><circle cx="491.80" cy="255.70" r="1.2"/></g>
</g>
<text x="448.25" y="159.20" text-anchor="middle" font-size="7.08">SIS-1-0</text>
<text x="414.75" y="269.00" text-anchor="middle" font-size="6.40">50</text>
<text x="431.50" y="269.00" text-anchor="middle" font-size="6.40">100</text>
<text x="448.25" y="269.00" text-anchor="middle" font-size="6.40">150</text>
<text x="465.00" y="269.00" text-anchor="middle" font-size="6.40">200</text>
<text x="481.75" y="269.00" text-anchor="middle" font-size="6.40">250</text>
<text x="498.50" y="269.00" text-anchor="middle" font-size="6.40">300</text>
<text x="395.70" y="246.43" text-anchor="end" font-size="6.40">50</text>
<text x="395.70" y="229.77" text-anchor="end" font-size="6.40">100</text>
<text x="395.70" y="213.10" text-anchor="end" font-size="6.40">150</text>
<text x="395.70" y="196.43" text-anchor="end" font-size="6.40">200</text>
<text x="395.70" y="179.77" text-anchor="end" font-size="6.40">250</text>
<text x="395.70" y="163.10" text-anchor="end" font-size="6.40">300</text>
<text x="448.25" y="277.50" text-anchor="middle" font-size="7.08">Easting</text>
<text transform="translate(382.80 210.50) rotate(-90)" text-anchor="middle" font-size="7.08">Northing</text>
<text x="381.40" y="277.10" font-size="6.4">F</text>
<rect x="502.60" y="197.10" width="11.60" height="11.30" fill="#fe0000" stroke="#500" stroke-width="0.55"/>
<rect x="502.60" y="217.00" width="11.60" height="11.30" fill="#000"/>
<text transform="translate(518.10 204.40) scale(0.91 1)" font-size="7.14">Mismatch</text>
<text transform="translate(518.10 224.80) scale(0.91 1)" font-size="7.14">Match</text></g>
</svg>
</body></html>
